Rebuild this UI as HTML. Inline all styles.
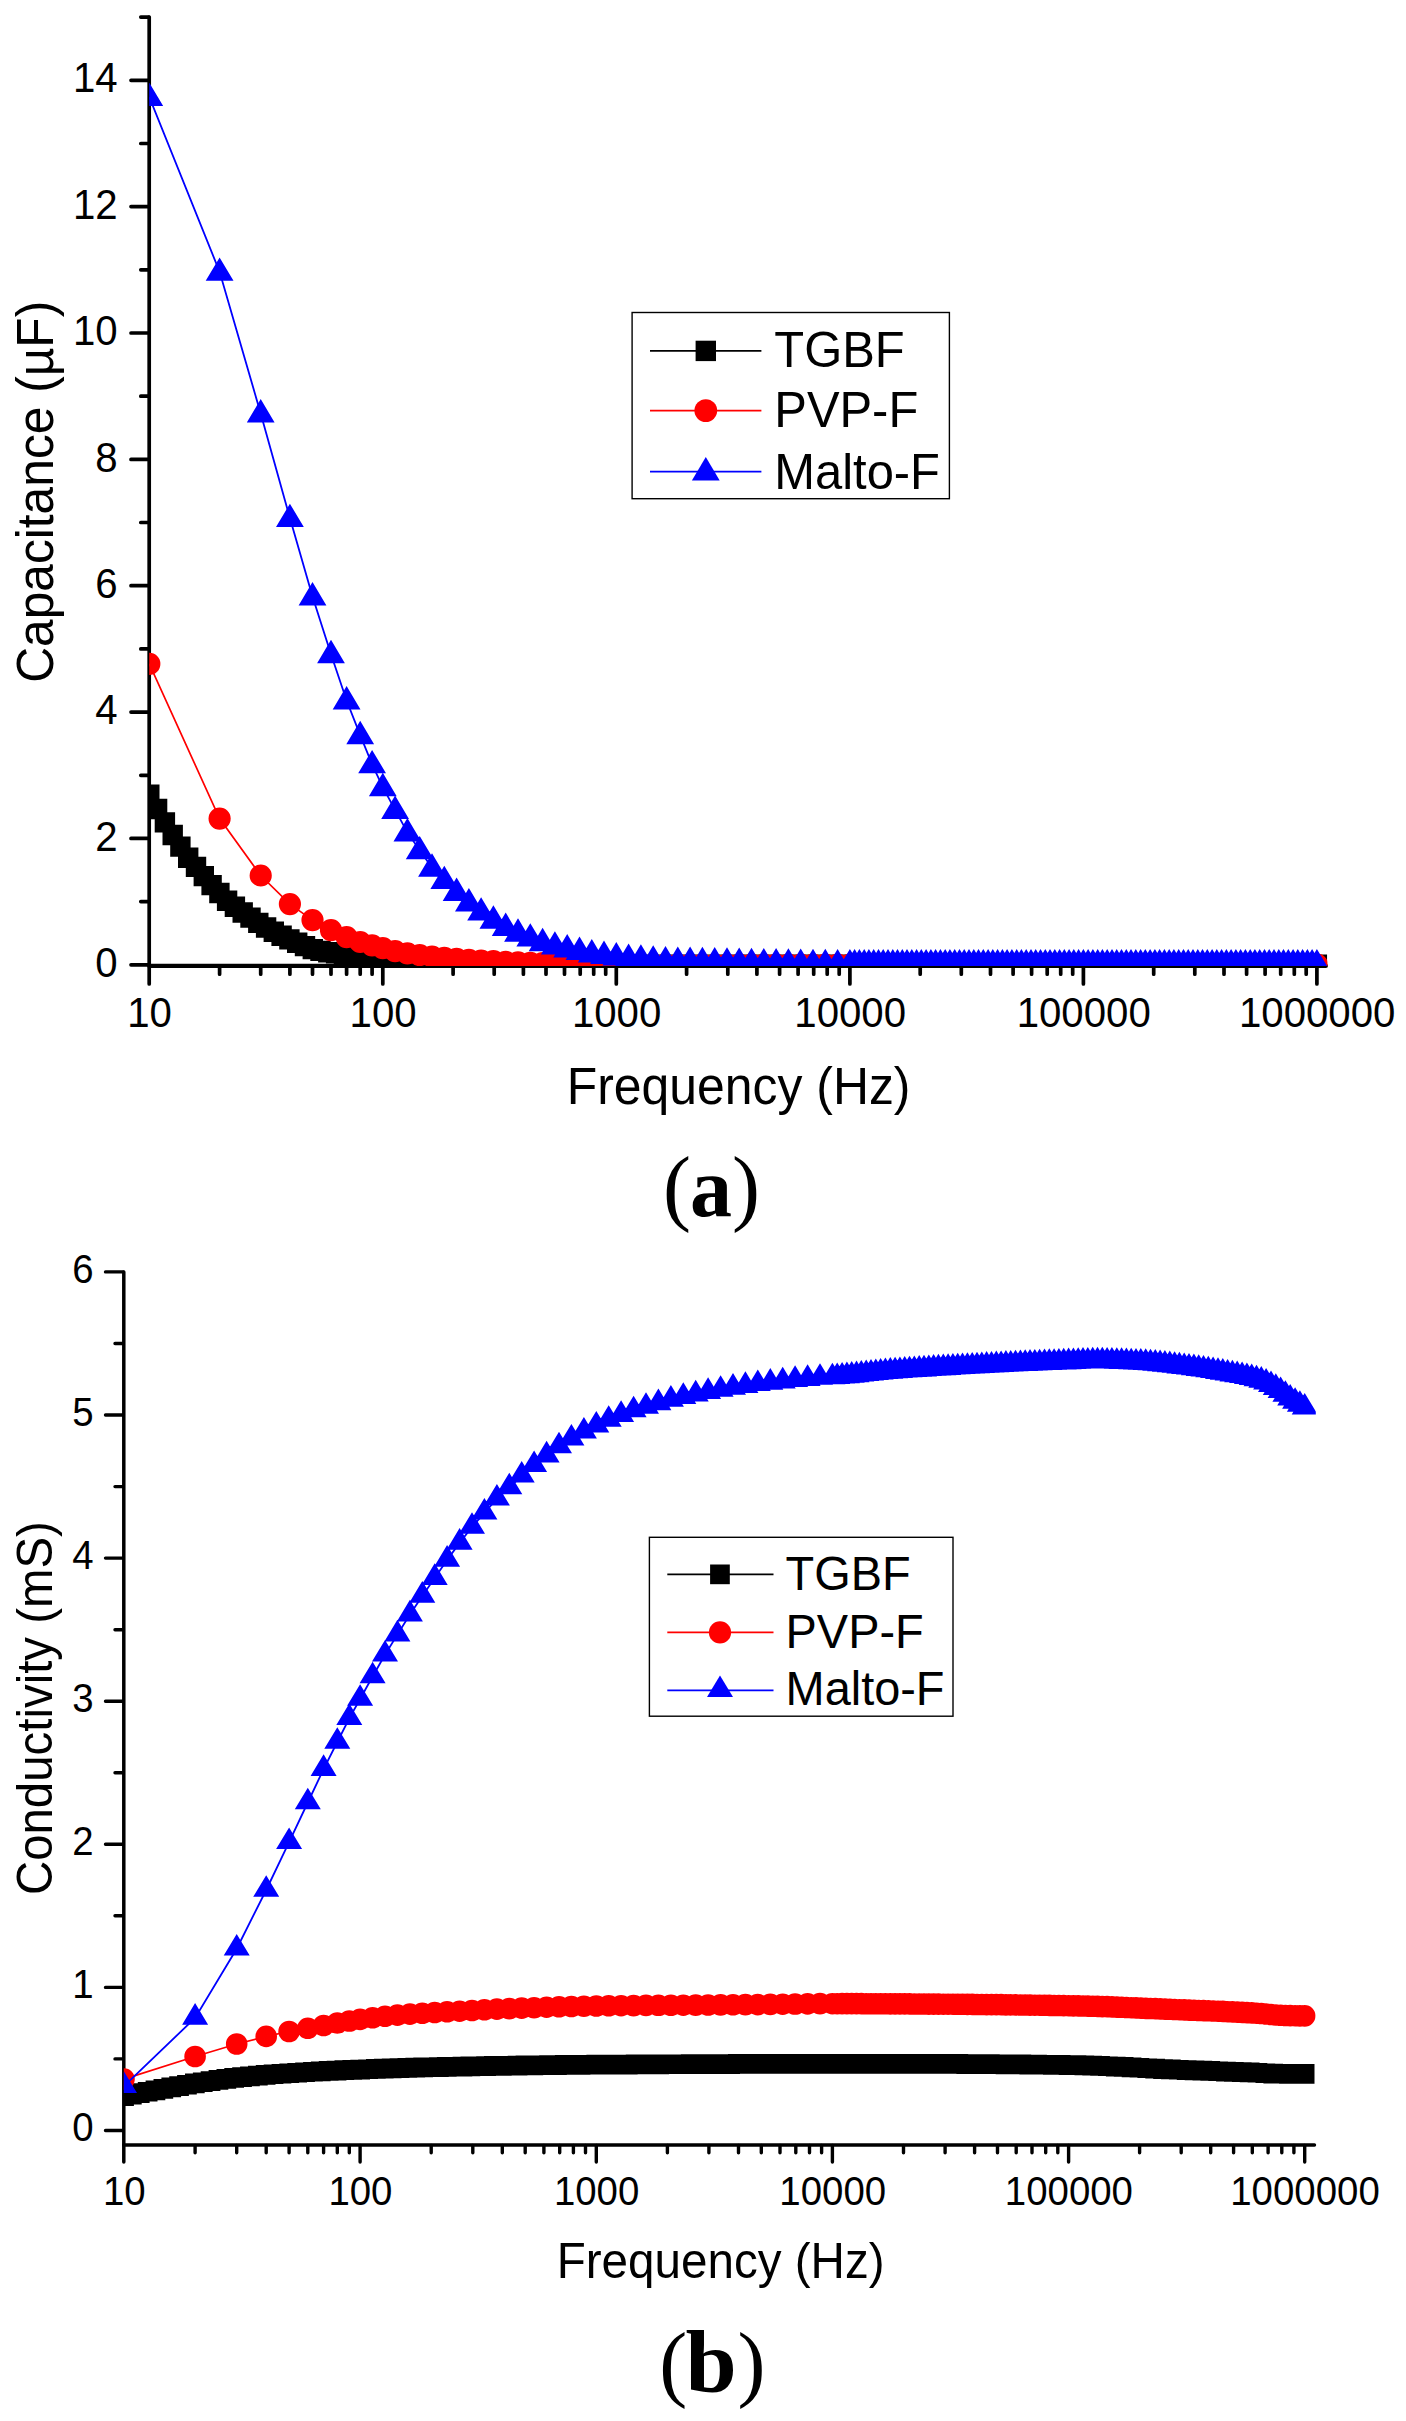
<!DOCTYPE html>
<html lang="en">
<head>
<meta charset="utf-8">
<title>Capacitance and conductivity versus frequency</title>
<style>
html,body{margin:0;padding:0;background:#fff;}
body{width:1406px;height:2421px;overflow:hidden;}
svg{display:block;}
text{fill:#000;}
</style>
</head>
<body>
<svg width="1406" height="2421" viewBox="0 0 1406 2421">
<rect width="1406" height="2421" fill="#fff"/>
<g stroke="#000" fill="none" stroke-linecap="round">
<path stroke-width="3.7" d="M149.2 17.1 V984"/>
<path stroke-width="4.1" d="M149.2 965.9 H1325.9"/>
<path stroke-width="3.7" stroke-linecap="round" d="M131 964.8H148.6M131 838.4H148.6M131 712.1H148.6M131 585.7H148.6M131 459.4H148.6M131 333H148.6M131 206.6H148.6M131 80.3H148.6M140.8 901.6H148.6M140.8 775.3H148.6M140.8 648.9H148.6M140.8 522.5H148.6M140.8 396.2H148.6M140.8 269.8H148.6M140.8 143.5H148.6M140.8 17.1H148.6M219.6 966.3V974.2M260.7 966.3V974.2M289.9 966.3V974.2M312.5 966.3V974.2M331 966.3V974.2M346.6 966.3V974.2M360.2 966.3V974.2M372.1 966.3V974.2M382.8 966.3V984M453.1 966.3V974.2M494.2 966.3V974.2M523.4 966.3V974.2M546 966.3V974.2M564.5 966.3V974.2M580.2 966.3V974.2M593.7 966.3V974.2M605.7 966.3V974.2M616.3 966.3V984M686.6 966.3V974.2M727.8 966.3V974.2M756.9 966.3V974.2M779.6 966.3V974.2M798.1 966.3V974.2M813.7 966.3V974.2M827.2 966.3V974.2M839.2 966.3V974.2M849.9 966.3V984M920.2 966.3V974.2M961.3 966.3V974.2M990.5 966.3V974.2M1013.1 966.3V974.2M1031.6 966.3V974.2M1047.2 966.3V974.2M1060.7 966.3V974.2M1072.7 966.3V974.2M1083.4 966.3V984M1153.7 966.3V974.2M1194.8 966.3V974.2M1224 966.3V974.2M1246.6 966.3V974.2M1265.1 966.3V974.2M1280.7 966.3V974.2M1294.3 966.3V974.2M1306.2 966.3V974.2M1316.9 966.3V984"/>
</g>
<clipPath id="clipA"><rect x="149.2" y="-15" width="1178.3" height="980.9"/></clipPath>
<g clip-path="url(#clipA)">
<polyline fill="none" stroke="#000" stroke-width="1.6" points="149.3,794.8 157.1,809 164.9,822.4 172.7,835 180.4,846.6 188.2,857.7 196,866.9 203.8,876.1 211.6,885.1 219.4,893 227.1,900.8 234.9,906.7 242.7,912.5 250.5,917.6 258.3,922.9 266.1,927.5 273.8,931.8 281.6,935.8 289.4,939.4 297.2,942.8 305,946.1 312.8,949.1 320.5,950.9 328.3,952.2 336.1,953.4 343.9,954.4 351.7,955.4 359.5,956.4 367.3,957.4 375,958.4 382.8,959.3 390.6,960.1 398.4,960.9 406.2,961.6 414,962.4 421.7,963.1 429.5,963.8 437.3,964.3 445.1,964.6 452.9,964.7 460.7,964.7 468.4,964.7 476.2,964.7 484,964.7 491.8,964.7 499.6,964.7 507.4,964.7 515.1,964.7 522.9,964.7 530.7,964.7 538.5,964.7 546.3,964.7 554.1,964.7 561.9,964.7 569.6,964.7 577.4,964.7 585.2,964.7 593,964.7 600.8,964.7 608.6,964.7 616.3,964.7 624.1,964.7 631.9,964.7 639.7,964.7 647.5,964.7 655.3,964.7 663,964.7 670.8,964.7 678.6,964.7 686.4,964.7 694.2,964.7 702,964.7 709.7,964.7 717.5,964.7 725.3,964.7 733.1,964.7 740.9,964.7 748.7,964.7 756.5,964.7 764.2,964.7 772,964.7 779.8,964.7 787.6,964.7 795.4,964.7 803.2,964.7 810.9,964.7 818.7,964.7 826.5,964.7 834.3,964.7 842.1,964.7 849.9,964.7 857.6,964.7 865.4,964.7 873.2,964.7 881,964.7 888.8,964.7 896.6,964.7 904.3,964.7 912.1,964.7 919.9,964.7 927.7,964.7 935.5,964.7 943.3,964.7 951.1,964.7 958.8,964.7 966.6,964.7 974.4,964.7 982.2,964.7 990,964.7 997.8,964.7 1005.5,964.7 1013.3,964.7 1021.1,964.7 1028.9,964.7 1036.7,964.7 1044.5,964.7 1052.2,964.7 1060,964.7 1067.8,964.7 1075.6,964.7 1083.4,964.7 1091.2,964.7 1098.9,964.7 1106.7,964.7 1114.5,964.7 1122.3,964.7 1130.1,964.7 1137.9,964.7 1145.7,964.7 1153.4,964.7 1161.2,964.7 1169,964.7 1176.8,964.7 1184.6,964.7 1192.4,964.7 1200.1,964.7 1207.9,964.7 1215.7,964.7 1223.5,964.7 1231.3,964.7 1239.1,964.7 1246.8,964.7 1254.6,964.7 1262.4,964.7 1270.2,964.7 1278,964.7 1285.8,964.7 1293.5,964.7 1301.3,964.7 1309.1,964.7 1316.9,964.7"/>
<path fill="#000" d="M139.1 784.6h20.4v20.4h-20.4zM146.9 798.8h20.4v20.4h-20.4zM154.7 812.2h20.4v20.4h-20.4zM162.5 824.8h20.4v20.4h-20.4zM170.2 836.4h20.4v20.4h-20.4zM178 847.5h20.4v20.4h-20.4zM185.8 856.7h20.4v20.4h-20.4zM193.6 865.9h20.4v20.4h-20.4zM201.4 874.9h20.4v20.4h-20.4zM209.2 882.8h20.4v20.4h-20.4zM216.9 890.6h20.4v20.4h-20.4zM224.7 896.5h20.4v20.4h-20.4zM232.5 902.3h20.4v20.4h-20.4zM240.3 907.4h20.4v20.4h-20.4zM248.1 912.7h20.4v20.4h-20.4zM255.9 917.3h20.4v20.4h-20.4zM263.6 921.6h20.4v20.4h-20.4zM271.4 925.6h20.4v20.4h-20.4zM279.2 929.2h20.4v20.4h-20.4zM287 932.6h20.4v20.4h-20.4zM294.8 935.9h20.4v20.4h-20.4zM302.6 938.9h20.4v20.4h-20.4zM310.3 940.7h20.4v20.4h-20.4zM318.1 942h20.4v20.4h-20.4zM325.9 943.2h20.4v20.4h-20.4zM333.7 944.2h20.4v20.4h-20.4zM341.5 945.2h20.4v20.4h-20.4zM349.3 946.2h20.4v20.4h-20.4zM357.1 947.2h20.4v20.4h-20.4zM364.8 948.2h20.4v20.4h-20.4zM372.6 949.1h20.4v20.4h-20.4zM380.4 949.9h20.4v20.4h-20.4zM388.2 950.7h20.4v20.4h-20.4zM396 951.4h20.4v20.4h-20.4zM403.8 952.2h20.4v20.4h-20.4zM411.5 952.9h20.4v20.4h-20.4zM419.3 953.6h20.4v20.4h-20.4zM427.1 954.1h20.4v20.4h-20.4zM434.9 954.4h20.4v20.4h-20.4zM442.7 954.5h20.4v20.4h-20.4zM450.5 954.5h20.4v20.4h-20.4zM458.2 954.5h20.4v20.4h-20.4zM466 954.5h20.4v20.4h-20.4zM473.8 954.5h20.4v20.4h-20.4zM481.6 954.5h20.4v20.4h-20.4zM489.4 954.5h20.4v20.4h-20.4zM497.2 954.5h20.4v20.4h-20.4zM504.9 954.5h20.4v20.4h-20.4zM512.7 954.5h20.4v20.4h-20.4zM520.5 954.5h20.4v20.4h-20.4zM528.3 954.5h20.4v20.4h-20.4zM536.1 954.5h20.4v20.4h-20.4zM543.9 954.5h20.4v20.4h-20.4zM551.7 954.5h20.4v20.4h-20.4zM559.4 954.5h20.4v20.4h-20.4zM567.2 954.5h20.4v20.4h-20.4zM575 954.5h20.4v20.4h-20.4zM582.8 954.5h20.4v20.4h-20.4zM590.6 954.5h20.4v20.4h-20.4zM598.4 954.5h20.4v20.4h-20.4zM606.1 954.5h20.4v20.4h-20.4zM613.9 954.5h20.4v20.4h-20.4zM621.7 954.5h20.4v20.4h-20.4zM629.5 954.5h20.4v20.4h-20.4zM637.3 954.5h20.4v20.4h-20.4zM645.1 954.5h20.4v20.4h-20.4zM652.8 954.5h20.4v20.4h-20.4zM660.6 954.5h20.4v20.4h-20.4zM668.4 954.5h20.4v20.4h-20.4zM676.2 954.5h20.4v20.4h-20.4zM684 954.5h20.4v20.4h-20.4zM691.8 954.5h20.4v20.4h-20.4zM699.5 954.5h20.4v20.4h-20.4zM707.3 954.5h20.4v20.4h-20.4zM715.1 954.5h20.4v20.4h-20.4zM722.9 954.5h20.4v20.4h-20.4zM730.7 954.5h20.4v20.4h-20.4zM738.5 954.5h20.4v20.4h-20.4zM746.3 954.5h20.4v20.4h-20.4zM754 954.5h20.4v20.4h-20.4zM761.8 954.5h20.4v20.4h-20.4zM769.6 954.5h20.4v20.4h-20.4zM777.4 954.5h20.4v20.4h-20.4zM785.2 954.5h20.4v20.4h-20.4zM793 954.5h20.4v20.4h-20.4zM800.7 954.5h20.4v20.4h-20.4zM808.5 954.5h20.4v20.4h-20.4zM816.3 954.5h20.4v20.4h-20.4zM824.1 954.5h20.4v20.4h-20.4zM831.9 954.5h20.4v20.4h-20.4zM839.7 954.5h20.4v20.4h-20.4zM847.4 954.5h20.4v20.4h-20.4zM855.2 954.5h20.4v20.4h-20.4zM863 954.5h20.4v20.4h-20.4zM870.8 954.5h20.4v20.4h-20.4zM878.6 954.5h20.4v20.4h-20.4zM886.4 954.5h20.4v20.4h-20.4zM894.1 954.5h20.4v20.4h-20.4zM901.9 954.5h20.4v20.4h-20.4zM909.7 954.5h20.4v20.4h-20.4zM917.5 954.5h20.4v20.4h-20.4zM925.3 954.5h20.4v20.4h-20.4zM933.1 954.5h20.4v20.4h-20.4zM940.9 954.5h20.4v20.4h-20.4zM948.6 954.5h20.4v20.4h-20.4zM956.4 954.5h20.4v20.4h-20.4zM964.2 954.5h20.4v20.4h-20.4zM972 954.5h20.4v20.4h-20.4zM979.8 954.5h20.4v20.4h-20.4zM987.6 954.5h20.4v20.4h-20.4zM995.3 954.5h20.4v20.4h-20.4zM1003.1 954.5h20.4v20.4h-20.4zM1010.9 954.5h20.4v20.4h-20.4zM1018.7 954.5h20.4v20.4h-20.4zM1026.5 954.5h20.4v20.4h-20.4zM1034.3 954.5h20.4v20.4h-20.4zM1042 954.5h20.4v20.4h-20.4zM1049.8 954.5h20.4v20.4h-20.4zM1057.6 954.5h20.4v20.4h-20.4zM1065.4 954.5h20.4v20.4h-20.4zM1073.2 954.5h20.4v20.4h-20.4zM1081 954.5h20.4v20.4h-20.4zM1088.7 954.5h20.4v20.4h-20.4zM1096.5 954.5h20.4v20.4h-20.4zM1104.3 954.5h20.4v20.4h-20.4zM1112.1 954.5h20.4v20.4h-20.4zM1119.9 954.5h20.4v20.4h-20.4zM1127.7 954.5h20.4v20.4h-20.4zM1135.5 954.5h20.4v20.4h-20.4zM1143.2 954.5h20.4v20.4h-20.4zM1151 954.5h20.4v20.4h-20.4zM1158.8 954.5h20.4v20.4h-20.4zM1166.6 954.5h20.4v20.4h-20.4zM1174.4 954.5h20.4v20.4h-20.4zM1182.2 954.5h20.4v20.4h-20.4zM1189.9 954.5h20.4v20.4h-20.4zM1197.7 954.5h20.4v20.4h-20.4zM1205.5 954.5h20.4v20.4h-20.4zM1213.3 954.5h20.4v20.4h-20.4zM1221.1 954.5h20.4v20.4h-20.4zM1228.9 954.5h20.4v20.4h-20.4zM1236.6 954.5h20.4v20.4h-20.4zM1244.4 954.5h20.4v20.4h-20.4zM1252.2 954.5h20.4v20.4h-20.4zM1260 954.5h20.4v20.4h-20.4zM1267.8 954.5h20.4v20.4h-20.4zM1275.6 954.5h20.4v20.4h-20.4zM1283.3 954.5h20.4v20.4h-20.4zM1291.1 954.5h20.4v20.4h-20.4zM1298.9 954.5h20.4v20.4h-20.4zM1306.7 954.5h20.4v20.4h-20.4z"/>
<polyline fill="none" stroke="#f00" stroke-width="1.7" points="149.3,663.9 219.6,818.6 260.7,875.5 289.9,904.1 312.5,920.1 331,930.2 346.6,937.1 360.2,942 372.1,945.3 382.8,948.2 395.1,951.2 407.4,953.4 419.7,955.1 432,956.6 444.3,957.8 456.6,958.8 468.9,959.8 481.1,960.6 493.4,961.2 505.7,961.8 518,962.3 530.3,962.8 542.6,963.2 554.9,963.5 567.2,963.7 579.5,964 591.8,964.1 604,964.2 616.3,964.3 628.6,964.4 640.9,964.4 653.2,964.5 665.5,964.5 677.8,964.6 690.1,964.6 702.4,964.6 714.7,964.6 727,964.6 739.2,964.6 751.5,964.6 763.8,964.6 776.1,964.6 788.4,964.6 800.7,964.6 813,964.6 825.3,964.6 837.6,964.6 849.9,964.6 854.6,964.6 859.4,964.6 864.2,964.6 868.9,964.6 873.7,964.6 878.5,964.6 883.2,964.6 888,964.6 892.8,964.6 897.5,964.6 902.3,964.6 907,964.6 911.8,964.6 916.6,964.6 921.3,964.6 926.1,964.6 930.9,964.6 935.6,964.6 940.4,964.6 945.2,964.6 949.9,964.6 954.7,964.6 959.5,964.6 964.2,964.6 969,964.6 973.8,964.6 978.5,964.6 983.3,964.6 988.1,964.6 992.8,964.6 997.6,964.6 1002.4,964.6 1007.1,964.6 1011.9,964.6 1016.7,964.6 1021.4,964.6 1026.2,964.6 1031,964.6 1035.7,964.6 1040.5,964.6 1045.3,964.6 1050,964.6 1054.8,964.6 1059.6,964.6 1064.3,964.6 1069.1,964.6 1073.8,964.6 1078.6,964.6 1083.4,964.6 1088.1,964.6 1092.9,964.6 1097.7,964.6 1102.4,964.6 1107.2,964.6 1112,964.6 1116.7,964.6 1121.5,964.6 1126.3,964.6 1131,964.6 1135.8,964.6 1140.6,964.6 1145.3,964.6 1150.1,964.6 1154.9,964.6 1159.6,964.6 1164.4,964.6 1169.2,964.6 1173.9,964.6 1178.7,964.6 1183.5,964.6 1188.2,964.6 1193,964.6 1197.8,964.6 1202.5,964.6 1207.3,964.6 1212.1,964.6 1216.8,964.6 1221.6,964.6 1226.4,964.6 1231.1,964.6 1235.9,964.6 1240.6,964.6 1245.4,964.6 1250.2,964.6 1254.9,964.6 1259.7,964.6 1264.5,964.6 1269.2,964.6 1274,964.6 1278.8,964.6 1283.5,964.6 1288.3,964.6 1293.1,964.6 1297.8,964.6 1302.6,964.6 1307.4,964.6 1312.1,964.6 1316.9,964.6"/>
<path fill="#f00" d="M138.2 663.9a11.1 11.1 0 1 0 22.2 0a11.1 11.1 0 1 0 -22.2 0zM208.5 818.6a11.1 11.1 0 1 0 22.2 0a11.1 11.1 0 1 0 -22.2 0zM249.6 875.5a11.1 11.1 0 1 0 22.2 0a11.1 11.1 0 1 0 -22.2 0zM278.8 904.1a11.1 11.1 0 1 0 22.2 0a11.1 11.1 0 1 0 -22.2 0zM301.4 920.1a11.1 11.1 0 1 0 22.2 0a11.1 11.1 0 1 0 -22.2 0zM319.9 930.2a11.1 11.1 0 1 0 22.2 0a11.1 11.1 0 1 0 -22.2 0zM335.5 937.1a11.1 11.1 0 1 0 22.2 0a11.1 11.1 0 1 0 -22.2 0zM349.1 942a11.1 11.1 0 1 0 22.2 0a11.1 11.1 0 1 0 -22.2 0zM361 945.3a11.1 11.1 0 1 0 22.2 0a11.1 11.1 0 1 0 -22.2 0zM371.7 948.2a11.1 11.1 0 1 0 22.2 0a11.1 11.1 0 1 0 -22.2 0zM384 951.2a11.1 11.1 0 1 0 22.2 0a11.1 11.1 0 1 0 -22.2 0zM396.3 953.4a11.1 11.1 0 1 0 22.2 0a11.1 11.1 0 1 0 -22.2 0zM408.6 955.1a11.1 11.1 0 1 0 22.2 0a11.1 11.1 0 1 0 -22.2 0zM420.9 956.6a11.1 11.1 0 1 0 22.2 0a11.1 11.1 0 1 0 -22.2 0zM433.2 957.8a11.1 11.1 0 1 0 22.2 0a11.1 11.1 0 1 0 -22.2 0zM445.5 958.8a11.1 11.1 0 1 0 22.2 0a11.1 11.1 0 1 0 -22.2 0zM457.8 959.8a11.1 11.1 0 1 0 22.2 0a11.1 11.1 0 1 0 -22.2 0zM470 960.6a11.1 11.1 0 1 0 22.2 0a11.1 11.1 0 1 0 -22.2 0zM482.3 961.2a11.1 11.1 0 1 0 22.2 0a11.1 11.1 0 1 0 -22.2 0zM494.6 961.8a11.1 11.1 0 1 0 22.2 0a11.1 11.1 0 1 0 -22.2 0zM506.9 962.3a11.1 11.1 0 1 0 22.2 0a11.1 11.1 0 1 0 -22.2 0zM519.2 962.8a11.1 11.1 0 1 0 22.2 0a11.1 11.1 0 1 0 -22.2 0zM531.5 963.2a11.1 11.1 0 1 0 22.2 0a11.1 11.1 0 1 0 -22.2 0zM543.8 963.5a11.1 11.1 0 1 0 22.2 0a11.1 11.1 0 1 0 -22.2 0zM556.1 963.7a11.1 11.1 0 1 0 22.2 0a11.1 11.1 0 1 0 -22.2 0zM568.4 964a11.1 11.1 0 1 0 22.2 0a11.1 11.1 0 1 0 -22.2 0zM580.7 964.1a11.1 11.1 0 1 0 22.2 0a11.1 11.1 0 1 0 -22.2 0zM592.9 964.2a11.1 11.1 0 1 0 22.2 0a11.1 11.1 0 1 0 -22.2 0zM605.2 964.3a11.1 11.1 0 1 0 22.2 0a11.1 11.1 0 1 0 -22.2 0zM617.5 964.4a11.1 11.1 0 1 0 22.2 0a11.1 11.1 0 1 0 -22.2 0zM629.8 964.4a11.1 11.1 0 1 0 22.2 0a11.1 11.1 0 1 0 -22.2 0zM642.1 964.5a11.1 11.1 0 1 0 22.2 0a11.1 11.1 0 1 0 -22.2 0zM654.4 964.5a11.1 11.1 0 1 0 22.2 0a11.1 11.1 0 1 0 -22.2 0zM666.7 964.6a11.1 11.1 0 1 0 22.2 0a11.1 11.1 0 1 0 -22.2 0zM679 964.6a11.1 11.1 0 1 0 22.2 0a11.1 11.1 0 1 0 -22.2 0zM691.3 964.6a11.1 11.1 0 1 0 22.2 0a11.1 11.1 0 1 0 -22.2 0zM703.6 964.6a11.1 11.1 0 1 0 22.2 0a11.1 11.1 0 1 0 -22.2 0zM715.9 964.6a11.1 11.1 0 1 0 22.2 0a11.1 11.1 0 1 0 -22.2 0zM728.1 964.6a11.1 11.1 0 1 0 22.2 0a11.1 11.1 0 1 0 -22.2 0zM740.4 964.6a11.1 11.1 0 1 0 22.2 0a11.1 11.1 0 1 0 -22.2 0zM752.7 964.6a11.1 11.1 0 1 0 22.2 0a11.1 11.1 0 1 0 -22.2 0zM765 964.6a11.1 11.1 0 1 0 22.2 0a11.1 11.1 0 1 0 -22.2 0zM777.3 964.6a11.1 11.1 0 1 0 22.2 0a11.1 11.1 0 1 0 -22.2 0zM789.6 964.6a11.1 11.1 0 1 0 22.2 0a11.1 11.1 0 1 0 -22.2 0zM801.9 964.6a11.1 11.1 0 1 0 22.2 0a11.1 11.1 0 1 0 -22.2 0zM814.2 964.6a11.1 11.1 0 1 0 22.2 0a11.1 11.1 0 1 0 -22.2 0zM826.5 964.6a11.1 11.1 0 1 0 22.2 0a11.1 11.1 0 1 0 -22.2 0zM838.8 964.6a11.1 11.1 0 1 0 22.2 0a11.1 11.1 0 1 0 -22.2 0zM843.5 964.6a11.1 11.1 0 1 0 22.2 0a11.1 11.1 0 1 0 -22.2 0zM848.3 964.6a11.1 11.1 0 1 0 22.2 0a11.1 11.1 0 1 0 -22.2 0zM853.1 964.6a11.1 11.1 0 1 0 22.2 0a11.1 11.1 0 1 0 -22.2 0zM857.8 964.6a11.1 11.1 0 1 0 22.2 0a11.1 11.1 0 1 0 -22.2 0zM862.6 964.6a11.1 11.1 0 1 0 22.2 0a11.1 11.1 0 1 0 -22.2 0zM867.4 964.6a11.1 11.1 0 1 0 22.2 0a11.1 11.1 0 1 0 -22.2 0zM872.1 964.6a11.1 11.1 0 1 0 22.2 0a11.1 11.1 0 1 0 -22.2 0zM876.9 964.6a11.1 11.1 0 1 0 22.2 0a11.1 11.1 0 1 0 -22.2 0zM881.7 964.6a11.1 11.1 0 1 0 22.2 0a11.1 11.1 0 1 0 -22.2 0zM886.4 964.6a11.1 11.1 0 1 0 22.2 0a11.1 11.1 0 1 0 -22.2 0zM891.2 964.6a11.1 11.1 0 1 0 22.2 0a11.1 11.1 0 1 0 -22.2 0zM895.9 964.6a11.1 11.1 0 1 0 22.2 0a11.1 11.1 0 1 0 -22.2 0zM900.7 964.6a11.1 11.1 0 1 0 22.2 0a11.1 11.1 0 1 0 -22.2 0zM905.5 964.6a11.1 11.1 0 1 0 22.2 0a11.1 11.1 0 1 0 -22.2 0zM910.2 964.6a11.1 11.1 0 1 0 22.2 0a11.1 11.1 0 1 0 -22.2 0zM915 964.6a11.1 11.1 0 1 0 22.2 0a11.1 11.1 0 1 0 -22.2 0zM919.8 964.6a11.1 11.1 0 1 0 22.2 0a11.1 11.1 0 1 0 -22.2 0zM924.5 964.6a11.1 11.1 0 1 0 22.2 0a11.1 11.1 0 1 0 -22.2 0zM929.3 964.6a11.1 11.1 0 1 0 22.2 0a11.1 11.1 0 1 0 -22.2 0zM934.1 964.6a11.1 11.1 0 1 0 22.2 0a11.1 11.1 0 1 0 -22.2 0zM938.8 964.6a11.1 11.1 0 1 0 22.2 0a11.1 11.1 0 1 0 -22.2 0zM943.6 964.6a11.1 11.1 0 1 0 22.2 0a11.1 11.1 0 1 0 -22.2 0zM948.4 964.6a11.1 11.1 0 1 0 22.2 0a11.1 11.1 0 1 0 -22.2 0zM953.1 964.6a11.1 11.1 0 1 0 22.2 0a11.1 11.1 0 1 0 -22.2 0zM957.9 964.6a11.1 11.1 0 1 0 22.2 0a11.1 11.1 0 1 0 -22.2 0zM962.7 964.6a11.1 11.1 0 1 0 22.2 0a11.1 11.1 0 1 0 -22.2 0zM967.4 964.6a11.1 11.1 0 1 0 22.2 0a11.1 11.1 0 1 0 -22.2 0zM972.2 964.6a11.1 11.1 0 1 0 22.2 0a11.1 11.1 0 1 0 -22.2 0zM977 964.6a11.1 11.1 0 1 0 22.2 0a11.1 11.1 0 1 0 -22.2 0zM981.7 964.6a11.1 11.1 0 1 0 22.2 0a11.1 11.1 0 1 0 -22.2 0zM986.5 964.6a11.1 11.1 0 1 0 22.2 0a11.1 11.1 0 1 0 -22.2 0zM991.3 964.6a11.1 11.1 0 1 0 22.2 0a11.1 11.1 0 1 0 -22.2 0zM996 964.6a11.1 11.1 0 1 0 22.2 0a11.1 11.1 0 1 0 -22.2 0zM1000.8 964.6a11.1 11.1 0 1 0 22.2 0a11.1 11.1 0 1 0 -22.2 0zM1005.6 964.6a11.1 11.1 0 1 0 22.2 0a11.1 11.1 0 1 0 -22.2 0zM1010.3 964.6a11.1 11.1 0 1 0 22.2 0a11.1 11.1 0 1 0 -22.2 0zM1015.1 964.6a11.1 11.1 0 1 0 22.2 0a11.1 11.1 0 1 0 -22.2 0zM1019.9 964.6a11.1 11.1 0 1 0 22.2 0a11.1 11.1 0 1 0 -22.2 0zM1024.6 964.6a11.1 11.1 0 1 0 22.2 0a11.1 11.1 0 1 0 -22.2 0zM1029.4 964.6a11.1 11.1 0 1 0 22.2 0a11.1 11.1 0 1 0 -22.2 0zM1034.2 964.6a11.1 11.1 0 1 0 22.2 0a11.1 11.1 0 1 0 -22.2 0zM1038.9 964.6a11.1 11.1 0 1 0 22.2 0a11.1 11.1 0 1 0 -22.2 0zM1043.7 964.6a11.1 11.1 0 1 0 22.2 0a11.1 11.1 0 1 0 -22.2 0zM1048.5 964.6a11.1 11.1 0 1 0 22.2 0a11.1 11.1 0 1 0 -22.2 0zM1053.2 964.6a11.1 11.1 0 1 0 22.2 0a11.1 11.1 0 1 0 -22.2 0zM1058 964.6a11.1 11.1 0 1 0 22.2 0a11.1 11.1 0 1 0 -22.2 0zM1062.7 964.6a11.1 11.1 0 1 0 22.2 0a11.1 11.1 0 1 0 -22.2 0zM1067.5 964.6a11.1 11.1 0 1 0 22.2 0a11.1 11.1 0 1 0 -22.2 0zM1072.3 964.6a11.1 11.1 0 1 0 22.2 0a11.1 11.1 0 1 0 -22.2 0zM1077 964.6a11.1 11.1 0 1 0 22.2 0a11.1 11.1 0 1 0 -22.2 0zM1081.8 964.6a11.1 11.1 0 1 0 22.2 0a11.1 11.1 0 1 0 -22.2 0zM1086.6 964.6a11.1 11.1 0 1 0 22.2 0a11.1 11.1 0 1 0 -22.2 0zM1091.3 964.6a11.1 11.1 0 1 0 22.2 0a11.1 11.1 0 1 0 -22.2 0zM1096.1 964.6a11.1 11.1 0 1 0 22.2 0a11.1 11.1 0 1 0 -22.2 0zM1100.9 964.6a11.1 11.1 0 1 0 22.2 0a11.1 11.1 0 1 0 -22.2 0zM1105.6 964.6a11.1 11.1 0 1 0 22.2 0a11.1 11.1 0 1 0 -22.2 0zM1110.4 964.6a11.1 11.1 0 1 0 22.2 0a11.1 11.1 0 1 0 -22.2 0zM1115.2 964.6a11.1 11.1 0 1 0 22.2 0a11.1 11.1 0 1 0 -22.2 0zM1119.9 964.6a11.1 11.1 0 1 0 22.2 0a11.1 11.1 0 1 0 -22.2 0zM1124.7 964.6a11.1 11.1 0 1 0 22.2 0a11.1 11.1 0 1 0 -22.2 0zM1129.5 964.6a11.1 11.1 0 1 0 22.2 0a11.1 11.1 0 1 0 -22.2 0zM1134.2 964.6a11.1 11.1 0 1 0 22.2 0a11.1 11.1 0 1 0 -22.2 0zM1139 964.6a11.1 11.1 0 1 0 22.2 0a11.1 11.1 0 1 0 -22.2 0zM1143.8 964.6a11.1 11.1 0 1 0 22.2 0a11.1 11.1 0 1 0 -22.2 0zM1148.5 964.6a11.1 11.1 0 1 0 22.2 0a11.1 11.1 0 1 0 -22.2 0zM1153.3 964.6a11.1 11.1 0 1 0 22.2 0a11.1 11.1 0 1 0 -22.2 0zM1158.1 964.6a11.1 11.1 0 1 0 22.2 0a11.1 11.1 0 1 0 -22.2 0zM1162.8 964.6a11.1 11.1 0 1 0 22.2 0a11.1 11.1 0 1 0 -22.2 0zM1167.6 964.6a11.1 11.1 0 1 0 22.2 0a11.1 11.1 0 1 0 -22.2 0zM1172.4 964.6a11.1 11.1 0 1 0 22.2 0a11.1 11.1 0 1 0 -22.2 0zM1177.1 964.6a11.1 11.1 0 1 0 22.2 0a11.1 11.1 0 1 0 -22.2 0zM1181.9 964.6a11.1 11.1 0 1 0 22.2 0a11.1 11.1 0 1 0 -22.2 0zM1186.7 964.6a11.1 11.1 0 1 0 22.2 0a11.1 11.1 0 1 0 -22.2 0zM1191.4 964.6a11.1 11.1 0 1 0 22.2 0a11.1 11.1 0 1 0 -22.2 0zM1196.2 964.6a11.1 11.1 0 1 0 22.2 0a11.1 11.1 0 1 0 -22.2 0zM1201 964.6a11.1 11.1 0 1 0 22.2 0a11.1 11.1 0 1 0 -22.2 0zM1205.7 964.6a11.1 11.1 0 1 0 22.2 0a11.1 11.1 0 1 0 -22.2 0zM1210.5 964.6a11.1 11.1 0 1 0 22.2 0a11.1 11.1 0 1 0 -22.2 0zM1215.3 964.6a11.1 11.1 0 1 0 22.2 0a11.1 11.1 0 1 0 -22.2 0zM1220 964.6a11.1 11.1 0 1 0 22.2 0a11.1 11.1 0 1 0 -22.2 0zM1224.8 964.6a11.1 11.1 0 1 0 22.2 0a11.1 11.1 0 1 0 -22.2 0zM1229.5 964.6a11.1 11.1 0 1 0 22.2 0a11.1 11.1 0 1 0 -22.2 0zM1234.3 964.6a11.1 11.1 0 1 0 22.2 0a11.1 11.1 0 1 0 -22.2 0zM1239.1 964.6a11.1 11.1 0 1 0 22.2 0a11.1 11.1 0 1 0 -22.2 0zM1243.8 964.6a11.1 11.1 0 1 0 22.2 0a11.1 11.1 0 1 0 -22.2 0zM1248.6 964.6a11.1 11.1 0 1 0 22.2 0a11.1 11.1 0 1 0 -22.2 0zM1253.4 964.6a11.1 11.1 0 1 0 22.2 0a11.1 11.1 0 1 0 -22.2 0zM1258.1 964.6a11.1 11.1 0 1 0 22.2 0a11.1 11.1 0 1 0 -22.2 0zM1262.9 964.6a11.1 11.1 0 1 0 22.2 0a11.1 11.1 0 1 0 -22.2 0zM1267.7 964.6a11.1 11.1 0 1 0 22.2 0a11.1 11.1 0 1 0 -22.2 0zM1272.4 964.6a11.1 11.1 0 1 0 22.2 0a11.1 11.1 0 1 0 -22.2 0zM1277.2 964.6a11.1 11.1 0 1 0 22.2 0a11.1 11.1 0 1 0 -22.2 0zM1282 964.6a11.1 11.1 0 1 0 22.2 0a11.1 11.1 0 1 0 -22.2 0zM1286.7 964.6a11.1 11.1 0 1 0 22.2 0a11.1 11.1 0 1 0 -22.2 0zM1291.5 964.6a11.1 11.1 0 1 0 22.2 0a11.1 11.1 0 1 0 -22.2 0zM1296.3 964.6a11.1 11.1 0 1 0 22.2 0a11.1 11.1 0 1 0 -22.2 0zM1301 964.6a11.1 11.1 0 1 0 22.2 0a11.1 11.1 0 1 0 -22.2 0zM1305.8 964.6a11.1 11.1 0 1 0 22.2 0a11.1 11.1 0 1 0 -22.2 0z"/>
<polyline fill="none" stroke="#00f" stroke-width="1.8" points="149.3,97.1 219.6,271.8 260.7,413.5 289.9,518.1 312.5,596.4 331,654.2 346.6,700.5 360.2,735.2 372.1,764.3 382.8,787.2 395.1,809.9 407.4,832.4 419.7,850.3 432,867.7 444.3,880.1 456.6,891.9 468.9,902.4 481.1,911.6 493.4,919.7 505.7,927 518,932.7 530.3,937.6 542.6,942.2 554.9,945.6 567.2,948.5 579.5,950.9 591.8,953.4 604,955 616.3,956.5 628.6,958 640.9,958.6 653.2,959.6 665.5,960.4 677.8,960.8 690.1,961 702.4,961.2 714.7,961.5 727,961.7 739.2,961.9 751.5,962.1 763.8,962.3 776.1,962.5 788.4,962.7 800.7,962.9 813,963.1 825.3,963.2 837.6,963.3 849.9,963.3 854.6,963.3 859.4,963.3 864.2,963.3 868.9,963.3 873.7,963.3 878.5,963.3 883.2,963.3 888,963.3 892.8,963.3 897.5,963.3 902.3,963.3 907,963.3 911.8,963.3 916.6,963.3 921.3,963.3 926.1,963.3 930.9,963.3 935.6,963.3 940.4,963.3 945.2,963.3 949.9,963.3 954.7,963.3 959.5,963.3 964.2,963.3 969,963.3 973.8,963.3 978.5,963.3 983.3,963.3 988.1,963.3 992.8,963.3 997.6,963.3 1002.4,963.3 1007.1,963.3 1011.9,963.3 1016.7,963.3 1021.4,963.3 1026.2,963.3 1031,963.3 1035.7,963.3 1040.5,963.3 1045.3,963.3 1050,963.3 1054.8,963.3 1059.6,963.3 1064.3,963.3 1069.1,963.3 1073.8,963.3 1078.6,963.3 1083.4,963.3 1088.1,963.3 1092.9,963.3 1097.7,963.3 1102.4,963.3 1107.2,963.3 1112,963.3 1116.7,963.3 1121.5,963.3 1126.3,963.3 1131,963.3 1135.8,963.3 1140.6,963.3 1145.3,963.3 1150.1,963.3 1154.9,963.3 1159.6,963.3 1164.4,963.3 1169.2,963.3 1173.9,963.3 1178.7,963.3 1183.5,963.3 1188.2,963.3 1193,963.3 1197.8,963.3 1202.5,963.3 1207.3,963.3 1212.1,963.3 1216.8,963.3 1221.6,963.3 1226.4,963.3 1231.1,963.3 1235.9,963.3 1240.6,963.3 1245.4,963.3 1250.2,963.3 1254.9,963.3 1259.7,963.3 1264.5,963.3 1269.2,963.3 1274,963.3 1278.8,963.3 1283.5,963.3 1288.3,963.3 1293.1,963.3 1297.8,963.3 1302.6,963.3 1307.4,963.3 1312.1,963.3 1316.9,963.3"/>
<path fill="#00f" d="M149.3 82.7l13.9 23.4h-27.8zM219.6 257.4l13.9 23.4h-27.8zM260.7 399.1l13.9 23.4h-27.8zM289.9 503.7l13.9 23.4h-27.8zM312.5 582l13.9 23.4h-27.8zM331 639.8l13.9 23.4h-27.8zM346.6 686.1l13.9 23.4h-27.8zM360.2 720.8l13.9 23.4h-27.8zM372.1 749.9l13.9 23.4h-27.8zM382.8 772.8l13.9 23.4h-27.8zM395.1 795.5l13.9 23.4h-27.8zM407.4 818l13.9 23.4h-27.8zM419.7 835.9l13.9 23.4h-27.8zM432 853.3l13.9 23.4h-27.8zM444.3 865.7l13.9 23.4h-27.8zM456.6 877.5l13.9 23.4h-27.8zM468.9 888l13.9 23.4h-27.8zM481.1 897.2l13.9 23.4h-27.8zM493.4 905.3l13.9 23.4h-27.8zM505.7 912.6l13.9 23.4h-27.8zM518 918.3l13.9 23.4h-27.8zM530.3 923.2l13.9 23.4h-27.8zM542.6 927.8l13.9 23.4h-27.8zM554.9 931.2l13.9 23.4h-27.8zM567.2 934.1l13.9 23.4h-27.8zM579.5 936.5l13.9 23.4h-27.8zM591.8 939l13.9 23.4h-27.8zM604 940.6l13.9 23.4h-27.8zM616.3 942.1l13.9 23.4h-27.8zM628.6 943.6l13.9 23.4h-27.8zM640.9 944.2l13.9 23.4h-27.8zM653.2 945.2l13.9 23.4h-27.8zM665.5 946l13.9 23.4h-27.8zM677.8 946.4l13.9 23.4h-27.8zM690.1 946.6l13.9 23.4h-27.8zM702.4 946.8l13.9 23.4h-27.8zM714.7 947.1l13.9 23.4h-27.8zM727 947.3l13.9 23.4h-27.8zM739.2 947.5l13.9 23.4h-27.8zM751.5 947.7l13.9 23.4h-27.8zM763.8 947.9l13.9 23.4h-27.8zM776.1 948.1l13.9 23.4h-27.8zM788.4 948.3l13.9 23.4h-27.8zM800.7 948.5l13.9 23.4h-27.8zM813 948.7l13.9 23.4h-27.8zM825.3 948.8l13.9 23.4h-27.8zM837.6 948.9l13.9 23.4h-27.8zM849.9 948.9l13.9 23.4h-27.8zM854.6 948.9l13.9 23.4h-27.8zM859.4 948.9l13.9 23.4h-27.8zM864.2 948.9l13.9 23.4h-27.8zM868.9 948.9l13.9 23.4h-27.8zM873.7 948.9l13.9 23.4h-27.8zM878.5 948.9l13.9 23.4h-27.8zM883.2 948.9l13.9 23.4h-27.8zM888 948.9l13.9 23.4h-27.8zM892.8 948.9l13.9 23.4h-27.8zM897.5 948.9l13.9 23.4h-27.8zM902.3 948.9l13.9 23.4h-27.8zM907 948.9l13.9 23.4h-27.8zM911.8 948.9l13.9 23.4h-27.8zM916.6 948.9l13.9 23.4h-27.8zM921.3 948.9l13.9 23.4h-27.8zM926.1 948.9l13.9 23.4h-27.8zM930.9 948.9l13.9 23.4h-27.8zM935.6 948.9l13.9 23.4h-27.8zM940.4 948.9l13.9 23.4h-27.8zM945.2 948.9l13.9 23.4h-27.8zM949.9 948.9l13.9 23.4h-27.8zM954.7 948.9l13.9 23.4h-27.8zM959.5 948.9l13.9 23.4h-27.8zM964.2 948.9l13.9 23.4h-27.8zM969 948.9l13.9 23.4h-27.8zM973.8 948.9l13.9 23.4h-27.8zM978.5 948.9l13.9 23.4h-27.8zM983.3 948.9l13.9 23.4h-27.8zM988.1 948.9l13.9 23.4h-27.8zM992.8 948.9l13.9 23.4h-27.8zM997.6 948.9l13.9 23.4h-27.8zM1002.4 948.9l13.9 23.4h-27.8zM1007.1 948.9l13.9 23.4h-27.8zM1011.9 948.9l13.9 23.4h-27.8zM1016.7 948.9l13.9 23.4h-27.8zM1021.4 948.9l13.9 23.4h-27.8zM1026.2 948.9l13.9 23.4h-27.8zM1031 948.9l13.9 23.4h-27.8zM1035.7 948.9l13.9 23.4h-27.8zM1040.5 948.9l13.9 23.4h-27.8zM1045.3 948.9l13.9 23.4h-27.8zM1050 948.9l13.9 23.4h-27.8zM1054.8 948.9l13.9 23.4h-27.8zM1059.6 948.9l13.9 23.4h-27.8zM1064.3 948.9l13.9 23.4h-27.8zM1069.1 948.9l13.9 23.4h-27.8zM1073.8 948.9l13.9 23.4h-27.8zM1078.6 948.9l13.9 23.4h-27.8zM1083.4 948.9l13.9 23.4h-27.8zM1088.1 948.9l13.9 23.4h-27.8zM1092.9 948.9l13.9 23.4h-27.8zM1097.7 948.9l13.9 23.4h-27.8zM1102.4 948.9l13.9 23.4h-27.8zM1107.2 948.9l13.9 23.4h-27.8zM1112 948.9l13.9 23.4h-27.8zM1116.7 948.9l13.9 23.4h-27.8zM1121.5 948.9l13.9 23.4h-27.8zM1126.3 948.9l13.9 23.4h-27.8zM1131 948.9l13.9 23.4h-27.8zM1135.8 948.9l13.9 23.4h-27.8zM1140.6 948.9l13.9 23.4h-27.8zM1145.3 948.9l13.9 23.4h-27.8zM1150.1 948.9l13.9 23.4h-27.8zM1154.9 948.9l13.9 23.4h-27.8zM1159.6 948.9l13.9 23.4h-27.8zM1164.4 948.9l13.9 23.4h-27.8zM1169.2 948.9l13.9 23.4h-27.8zM1173.9 948.9l13.9 23.4h-27.8zM1178.7 948.9l13.9 23.4h-27.8zM1183.5 948.9l13.9 23.4h-27.8zM1188.2 948.9l13.9 23.4h-27.8zM1193 948.9l13.9 23.4h-27.8zM1197.8 948.9l13.9 23.4h-27.8zM1202.5 948.9l13.9 23.4h-27.8zM1207.3 948.9l13.9 23.4h-27.8zM1212.1 948.9l13.9 23.4h-27.8zM1216.8 948.9l13.9 23.4h-27.8zM1221.6 948.9l13.9 23.4h-27.8zM1226.4 948.9l13.9 23.4h-27.8zM1231.1 948.9l13.9 23.4h-27.8zM1235.9 948.9l13.9 23.4h-27.8zM1240.6 948.9l13.9 23.4h-27.8zM1245.4 948.9l13.9 23.4h-27.8zM1250.2 948.9l13.9 23.4h-27.8zM1254.9 948.9l13.9 23.4h-27.8zM1259.7 948.9l13.9 23.4h-27.8zM1264.5 948.9l13.9 23.4h-27.8zM1269.2 948.9l13.9 23.4h-27.8zM1274 948.9l13.9 23.4h-27.8zM1278.8 948.9l13.9 23.4h-27.8zM1283.5 948.9l13.9 23.4h-27.8zM1288.3 948.9l13.9 23.4h-27.8zM1293.1 948.9l13.9 23.4h-27.8zM1297.8 948.9l13.9 23.4h-27.8zM1302.6 948.9l13.9 23.4h-27.8zM1307.4 948.9l13.9 23.4h-27.8zM1312.1 948.9l13.9 23.4h-27.8zM1316.9 948.9l13.9 23.4h-27.8z"/>
</g>
<g font-family='"Liberation Sans", Arial, Helvetica, sans-serif' fill="#000">
<text transform="translate(117.6 976.9) scale(1 1.041)" font-size="40.2" text-anchor="end">0</text>
<text transform="translate(117.6 850.5) scale(1 1.041)" font-size="40.2" text-anchor="end">2</text>
<text transform="translate(117.6 724.2) scale(1 1.041)" font-size="40.2" text-anchor="end">4</text>
<text transform="translate(117.6 597.8) scale(1 1.041)" font-size="40.2" text-anchor="end">6</text>
<text transform="translate(117.6 471.5) scale(1 1.041)" font-size="40.2" text-anchor="end">8</text>
<text transform="translate(117.6 345.1) scale(1 1.041)" font-size="40.2" text-anchor="end">10</text>
<text transform="translate(117.6 218.7) scale(1 1.041)" font-size="40.2" text-anchor="end">12</text>
<text transform="translate(117.6 92.4) scale(1 1.041)" font-size="40.2" text-anchor="end">14</text>
<text transform="translate(149.6 1027) scale(1 1.041)" font-size="40.2" text-anchor="middle">10</text>
<text transform="translate(383.1 1027) scale(1 1.041)" font-size="40.2" text-anchor="middle">100</text>
<text transform="translate(616.6 1027) scale(1 1.041)" font-size="40.2" text-anchor="middle">1000</text>
<text transform="translate(850.2 1027) scale(1 1.041)" font-size="40.2" text-anchor="middle">10000</text>
<text transform="translate(1083.7 1027) scale(1 1.041)" font-size="40.2" text-anchor="middle">100000</text>
<text transform="translate(1317.2 1027) scale(1 1.041)" font-size="40.2" text-anchor="middle">1000000</text>
<text transform="translate(52.5 491.8) rotate(-90) scale(1 1.041)" font-size="49.7" text-anchor="middle">Capacitance (µF)</text>
<text transform="translate(738.6 1104) scale(1 1.041)" font-size="49.9" text-anchor="middle">Frequency (Hz)</text>
</g>
<rect x="632.1" y="312.5" width="317.3" height="186.2" fill="#fff" stroke="#000" stroke-width="1.4"/>
<path stroke="#000" stroke-width="1.7" d="M650 350.9H761.4"/>
<path stroke="#f00" stroke-width="1.7" d="M650 410.6H761.4"/>
<path stroke="#00f" stroke-width="1.7" d="M650 471.6H761.4"/>
<rect fill="#000" x="695.6" y="340.7" width="20.4" height="20.4"/>
<circle fill="#f00" cx="705.8" cy="410.6" r="11.4"/>
<path fill="#00f" d="M705.8 457l13.9 23.4h-27.8z"/>
<g font-family='"Liberation Sans", Arial, Helvetica, sans-serif' fill="#000">
<text transform="translate(774.3 366.7) scale(1 1.03)" font-size="48.9" text-anchor="start">TGBF</text>
<text transform="translate(774.3 427.4) scale(1 1.03)" font-size="48.9" text-anchor="start">PVP-F</text>
<text transform="translate(774.3 488.6) scale(1 1.03)" font-size="48.9" text-anchor="start">Malto-F</text>
</g>
<g font-family='"Liberation Serif", "Times New Roman", serif' font-size="84" fill="#000">
<text x="663" y="1215.3">(</text>
<text font-weight="bold" transform="translate(690.1 1216) scale(1 1.0)">a</text>
<text x="732.1" y="1215.3">)</text>
</g>
<g stroke="#000" fill="none" stroke-linecap="round">
<path stroke-width="3.5" d="M123.8 1271.9 V2162.1"/>
<path stroke-width="3.4" d="M123.8 2145 H1314.5"/>
<path stroke-width="3.4" stroke-linecap="round" d="M105.5 2130.5H123.2M105.5 1987.4H123.2M105.5 1844.3H123.2M105.5 1701.2H123.2M105.5 1558.1H123.2M105.5 1415H123.2M105.5 1271.9H123.2M115 2058.9H123.2M115 1915.8H123.2M115 1772.8H123.2M115 1629.7H123.2M115 1486.6H123.2M115 1343.5H123.2M195.1 2145.4V2152.7M236.7 2145.4V2152.7M266.2 2145.4V2152.7M289.1 2145.4V2152.7M307.8 2145.4V2152.7M323.6 2145.4V2152.7M337.3 2145.4V2152.7M349.3 2145.4V2152.7M360.1 2145.4V2162.1M431.2 2145.4V2152.7M472.8 2145.4V2152.7M502.3 2145.4V2152.7M525.2 2145.4V2152.7M543.9 2145.4V2152.7M559.7 2145.4V2152.7M573.4 2145.4V2152.7M585.5 2145.4V2152.7M596.3 2145.4V2162.1M667.4 2145.4V2152.7M708.9 2145.4V2152.7M738.5 2145.4V2152.7M761.3 2145.4V2152.7M780 2145.4V2152.7M795.8 2145.4V2152.7M809.5 2145.4V2152.7M821.6 2145.4V2152.7M832.4 2145.4V2162.1M903.5 2145.4V2152.7M945.1 2145.4V2152.7M974.6 2145.4V2152.7M997.5 2145.4V2152.7M1016.2 2145.4V2152.7M1032 2145.4V2152.7M1045.7 2145.4V2152.7M1057.8 2145.4V2152.7M1068.6 2145.4V2162.1M1139.6 2145.4V2152.7M1181.2 2145.4V2152.7M1210.7 2145.4V2152.7M1233.6 2145.4V2152.7M1252.3 2145.4V2152.7M1268.1 2145.4V2152.7M1281.8 2145.4V2152.7M1293.9 2145.4V2152.7M1304.7 2145.4V2162.1"/>
</g>
<clipPath id="clipB"><rect x="123.8" y="1240" width="1192" height="905"/></clipPath>
<g clip-path="url(#clipB)">
<polyline fill="none" stroke="#000" stroke-width="1.6" points="124,2096.1 131.9,2094.6 139.7,2093.2 147.6,2091.7 155.5,2090.3 163.4,2088.9 171.2,2087.5 179.1,2086.1 187,2084.7 194.8,2083.4 202.7,2082.2 210.6,2081.1 218.5,2079.9 226.3,2078.9 234.2,2078 242.1,2077.1 249.9,2076.3 257.8,2075.6 265.7,2074.9 273.6,2074.3 281.4,2073.7 289.3,2073.2 297.2,2072.7 305,2072.2 312.9,2071.8 320.8,2071.3 328.7,2070.9 336.5,2070.5 344.4,2070.1 352.3,2069.8 360.1,2069.5 368,2069.2 375.9,2068.9 383.8,2068.7 391.6,2068.4 399.5,2068.2 407.4,2067.9 415.2,2067.7 423.1,2067.5 431,2067.3 438.9,2067.1 446.7,2066.9 454.6,2066.7 462.5,2066.5 470.3,2066.4 478.2,2066.2 486.1,2066.1 494,2066 501.8,2065.8 509.7,2065.7 517.6,2065.6 525.4,2065.5 533.3,2065.4 541.2,2065.2 549.1,2065.1 556.9,2065.1 564.8,2065 572.7,2064.9 580.5,2064.8 588.4,2064.7 596.3,2064.7 604.2,2064.6 612,2064.6 619.9,2064.6 627.8,2064.5 635.6,2064.5 643.5,2064.4 651.4,2064.4 659.3,2064.3 667.1,2064.3 675,2064.2 682.9,2064.2 690.7,2064.2 698.6,2064.1 706.5,2064.1 714.3,2064.1 722.2,2064 730.1,2064 738,2064 745.8,2063.9 753.7,2063.9 761.6,2063.9 769.4,2063.9 777.3,2063.9 785.2,2063.8 793.1,2063.8 800.9,2063.8 808.8,2063.8 816.7,2063.8 824.5,2063.8 832.4,2063.8 840.3,2063.8 848.2,2063.8 856,2063.8 863.9,2063.8 871.8,2063.8 879.6,2063.8 887.5,2063.8 895.4,2063.8 903.3,2063.8 911.1,2063.8 919,2063.8 926.9,2063.8 934.7,2063.9 942.6,2063.9 950.5,2063.9 958.4,2064 966.2,2064 974.1,2064.1 982,2064.1 989.8,2064.2 997.7,2064.2 1005.6,2064.3 1013.5,2064.4 1021.3,2064.5 1029.2,2064.5 1037.1,2064.6 1044.9,2064.7 1052.8,2064.8 1060.7,2064.9 1068.6,2065 1076.4,2065.1 1084.3,2065.3 1092.2,2065.6 1100,2065.9 1107.9,2066.2 1115.8,2066.6 1123.7,2067 1131.5,2067.4 1139.4,2067.8 1147.3,2068.2 1155.1,2068.6 1163,2069 1170.9,2069.4 1178.8,2069.8 1186.6,2070.1 1194.5,2070.4 1202.4,2070.7 1210.2,2071 1218.1,2071.2 1226,2071.5 1233.9,2071.8 1241.7,2072.1 1249.6,2072.4 1257.5,2072.8 1265.3,2073.3 1273.2,2073.7 1281.1,2073.8 1289,2073.8 1296.8,2073.9 1304.7,2073.9"/>
<path fill="#000" d="M114.2 2086.2h19.7v19.7h-19.7zM122 2084.7h19.7v19.7h-19.7zM129.9 2083.3h19.7v19.7h-19.7zM137.8 2081.9h19.7v19.7h-19.7zM145.6 2080.5h19.7v19.7h-19.7zM153.5 2079h19.7v19.7h-19.7zM161.4 2077.6h19.7v19.7h-19.7zM169.2 2076.2h19.7v19.7h-19.7zM177.1 2074.9h19.7v19.7h-19.7zM185 2073.6h19.7v19.7h-19.7zM192.9 2072.4h19.7v19.7h-19.7zM200.7 2071.2h19.7v19.7h-19.7zM208.6 2070.1h19.7v19.7h-19.7zM216.5 2069h19.7v19.7h-19.7zM224.3 2068.1h19.7v19.7h-19.7zM232.2 2067.3h19.7v19.7h-19.7zM240.1 2066.5h19.7v19.7h-19.7zM248 2065.7h19.7v19.7h-19.7zM255.8 2065.1h19.7v19.7h-19.7zM263.7 2064.4h19.7v19.7h-19.7zM271.6 2063.9h19.7v19.7h-19.7zM279.4 2063.4h19.7v19.7h-19.7zM287.3 2062.9h19.7v19.7h-19.7zM295.2 2062.4h19.7v19.7h-19.7zM303.1 2061.9h19.7v19.7h-19.7zM310.9 2061.5h19.7v19.7h-19.7zM318.8 2061.1h19.7v19.7h-19.7zM326.7 2060.7h19.7v19.7h-19.7zM334.5 2060.3h19.7v19.7h-19.7zM342.4 2060h19.7v19.7h-19.7zM350.3 2059.7h19.7v19.7h-19.7zM358.2 2059.4h19.7v19.7h-19.7zM366 2059.1h19.7v19.7h-19.7zM373.9 2058.8h19.7v19.7h-19.7zM381.8 2058.6h19.7v19.7h-19.7zM389.6 2058.3h19.7v19.7h-19.7zM397.5 2058.1h19.7v19.7h-19.7zM405.4 2057.8h19.7v19.7h-19.7zM413.3 2057.6h19.7v19.7h-19.7zM421.1 2057.4h19.7v19.7h-19.7zM429 2057.2h19.7v19.7h-19.7zM436.9 2057h19.7v19.7h-19.7zM444.7 2056.9h19.7v19.7h-19.7zM452.6 2056.7h19.7v19.7h-19.7zM460.5 2056.5h19.7v19.7h-19.7zM468.4 2056.4h19.7v19.7h-19.7zM476.2 2056.3h19.7v19.7h-19.7zM484.1 2056.1h19.7v19.7h-19.7zM492 2056h19.7v19.7h-19.7zM499.8 2055.9h19.7v19.7h-19.7zM507.7 2055.7h19.7v19.7h-19.7zM515.6 2055.6h19.7v19.7h-19.7zM523.5 2055.5h19.7v19.7h-19.7zM531.3 2055.4h19.7v19.7h-19.7zM539.2 2055.3h19.7v19.7h-19.7zM547.1 2055.2h19.7v19.7h-19.7zM554.9 2055.1h19.7v19.7h-19.7zM562.8 2055h19.7v19.7h-19.7zM570.7 2055h19.7v19.7h-19.7zM578.6 2054.9h19.7v19.7h-19.7zM586.4 2054.8h19.7v19.7h-19.7zM594.3 2054.8h19.7v19.7h-19.7zM602.2 2054.7h19.7v19.7h-19.7zM610 2054.7h19.7v19.7h-19.7zM617.9 2054.7h19.7v19.7h-19.7zM625.8 2054.6h19.7v19.7h-19.7zM633.7 2054.6h19.7v19.7h-19.7zM641.5 2054.5h19.7v19.7h-19.7zM649.4 2054.5h19.7v19.7h-19.7zM657.3 2054.4h19.7v19.7h-19.7zM665.1 2054.4h19.7v19.7h-19.7zM673 2054.4h19.7v19.7h-19.7zM680.9 2054.3h19.7v19.7h-19.7zM688.8 2054.3h19.7v19.7h-19.7zM696.6 2054.2h19.7v19.7h-19.7zM704.5 2054.2h19.7v19.7h-19.7zM712.4 2054.2h19.7v19.7h-19.7zM720.2 2054.2h19.7v19.7h-19.7zM728.1 2054.1h19.7v19.7h-19.7zM736 2054.1h19.7v19.7h-19.7zM743.9 2054.1h19.7v19.7h-19.7zM751.7 2054h19.7v19.7h-19.7zM759.6 2054h19.7v19.7h-19.7zM767.5 2054h19.7v19.7h-19.7zM775.3 2054h19.7v19.7h-19.7zM783.2 2054h19.7v19.7h-19.7zM791.1 2054h19.7v19.7h-19.7zM799 2054h19.7v19.7h-19.7zM806.8 2054h19.7v19.7h-19.7zM814.7 2054h19.7v19.7h-19.7zM822.6 2054h19.7v19.7h-19.7zM830.4 2054h19.7v19.7h-19.7zM838.3 2054h19.7v19.7h-19.7zM846.2 2054h19.7v19.7h-19.7zM854.1 2054h19.7v19.7h-19.7zM861.9 2054h19.7v19.7h-19.7zM869.8 2054h19.7v19.7h-19.7zM877.7 2054h19.7v19.7h-19.7zM885.5 2054h19.7v19.7h-19.7zM893.4 2054h19.7v19.7h-19.7zM901.3 2054h19.7v19.7h-19.7zM909.2 2054h19.7v19.7h-19.7zM917 2054h19.7v19.7h-19.7zM924.9 2054h19.7v19.7h-19.7zM932.8 2054h19.7v19.7h-19.7zM940.6 2054.1h19.7v19.7h-19.7zM948.5 2054.1h19.7v19.7h-19.7zM956.4 2054.2h19.7v19.7h-19.7zM964.3 2054.2h19.7v19.7h-19.7zM972.1 2054.3h19.7v19.7h-19.7zM980 2054.3h19.7v19.7h-19.7zM987.9 2054.4h19.7v19.7h-19.7zM995.7 2054.5h19.7v19.7h-19.7zM1003.6 2054.5h19.7v19.7h-19.7zM1011.5 2054.6h19.7v19.7h-19.7zM1019.4 2054.7h19.7v19.7h-19.7zM1027.2 2054.8h19.7v19.7h-19.7zM1035.1 2054.9h19.7v19.7h-19.7zM1043 2055h19.7v19.7h-19.7zM1050.8 2055.1h19.7v19.7h-19.7zM1058.7 2055.2h19.7v19.7h-19.7zM1066.6 2055.3h19.7v19.7h-19.7zM1074.5 2055.5h19.7v19.7h-19.7zM1082.3 2055.7h19.7v19.7h-19.7zM1090.2 2056h19.7v19.7h-19.7zM1098.1 2056.4h19.7v19.7h-19.7zM1105.9 2056.7h19.7v19.7h-19.7zM1113.8 2057.1h19.7v19.7h-19.7zM1121.7 2057.5h19.7v19.7h-19.7zM1129.6 2057.9h19.7v19.7h-19.7zM1137.4 2058.4h19.7v19.7h-19.7zM1145.3 2058.8h19.7v19.7h-19.7zM1153.2 2059.2h19.7v19.7h-19.7zM1161 2059.6h19.7v19.7h-19.7zM1168.9 2059.9h19.7v19.7h-19.7zM1176.8 2060.2h19.7v19.7h-19.7zM1184.7 2060.5h19.7v19.7h-19.7zM1192.5 2060.8h19.7v19.7h-19.7zM1200.4 2061.1h19.7v19.7h-19.7zM1208.3 2061.4h19.7v19.7h-19.7zM1216.1 2061.7h19.7v19.7h-19.7zM1224 2062h19.7v19.7h-19.7zM1231.9 2062.3h19.7v19.7h-19.7zM1239.8 2062.6h19.7v19.7h-19.7zM1247.6 2062.9h19.7v19.7h-19.7zM1255.5 2063.4h19.7v19.7h-19.7zM1263.4 2063.8h19.7v19.7h-19.7zM1271.2 2063.9h19.7v19.7h-19.7zM1279.1 2064h19.7v19.7h-19.7zM1287 2064h19.7v19.7h-19.7zM1294.8 2064h19.7v19.7h-19.7z"/>
<polyline fill="none" stroke="#f00" stroke-width="1.7" points="124,2079.1 195.1,2056.5 236.7,2044 266.2,2036.4 289.1,2031.5 307.8,2028.3 323.6,2025.5 337.3,2023 349.3,2021 360.1,2019.4 372.6,2017.8 385,2016.3 397.4,2015.1 409.9,2014.1 422.3,2013.3 434.7,2012.5 447.1,2011.8 459.6,2011.2 472,2010.5 484.4,2009.8 496.9,2009.1 509.3,2008.6 521.7,2008.1 534.1,2007.7 546.6,2007.2 559,2006.8 571.4,2006.5 583.9,2006.2 596.3,2006 608.7,2005.8 621.1,2005.7 633.6,2005.6 646,2005.4 658.4,2005.3 670.9,2005.3 683.3,2005.2 695.7,2005.1 708.1,2005 720.6,2004.9 733,2004.8 745.4,2004.7 757.8,2004.6 770.3,2004.4 782.7,2004.2 795.1,2004 807.6,2003.9 820,2003.7 832.4,2003.7 837.2,2003.7 842.1,2003.7 846.9,2003.7 851.7,2003.7 856.5,2003.7 861.3,2003.7 866.2,2003.8 871,2003.8 875.8,2003.8 880.6,2003.8 885.4,2003.8 890.3,2003.9 895.1,2003.9 899.9,2003.9 904.7,2003.9 909.5,2003.9 914.3,2004 919.2,2004 924,2004 928.8,2004.1 933.6,2004.1 938.4,2004.1 943.3,2004.2 948.1,2004.2 952.9,2004.2 957.7,2004.3 962.5,2004.3 967.4,2004.4 972.2,2004.4 977,2004.5 981.8,2004.5 986.6,2004.6 991.5,2004.6 996.3,2004.7 1001.1,2004.7 1005.9,2004.8 1010.7,2004.8 1015.5,2004.9 1020.4,2005 1025.2,2005 1030,2005.1 1034.8,2005.2 1039.6,2005.2 1044.5,2005.3 1049.3,2005.4 1054.1,2005.5 1058.9,2005.5 1063.7,2005.6 1068.6,2005.7 1073.4,2005.8 1078.2,2005.9 1083,2006 1087.8,2006.1 1092.7,2006.3 1097.5,2006.4 1102.3,2006.6 1107.1,2006.7 1111.9,2006.9 1116.8,2007.1 1121.6,2007.3 1126.4,2007.5 1131.2,2007.7 1136,2007.9 1140.8,2008.1 1145.7,2008.3 1150.5,2008.5 1155.3,2008.7 1160.1,2008.9 1164.9,2009.1 1169.8,2009.3 1174.6,2009.5 1179.4,2009.7 1184.2,2009.9 1189,2010.1 1193.9,2010.3 1198.7,2010.5 1203.5,2010.7 1208.3,2010.8 1213.1,2011 1218,2011.2 1222.8,2011.4 1227.6,2011.7 1232.4,2011.9 1237.2,2012.1 1242.1,2012.3 1246.9,2012.6 1251.7,2012.9 1256.5,2013.2 1261.3,2013.5 1266.1,2014 1271,2014.5 1275.8,2015 1280.6,2015.3 1285.4,2015.5 1290.2,2015.6 1295.1,2015.7 1299.9,2015.8 1304.7,2015.8"/>
<path fill="#f00" d="M113.2 2079.1a10.8 10.8 0 1 0 21.6 0a10.8 10.8 0 1 0 -21.6 0zM184.3 2056.5a10.8 10.8 0 1 0 21.6 0a10.8 10.8 0 1 0 -21.6 0zM225.9 2044a10.8 10.8 0 1 0 21.6 0a10.8 10.8 0 1 0 -21.6 0zM255.4 2036.4a10.8 10.8 0 1 0 21.6 0a10.8 10.8 0 1 0 -21.6 0zM278.3 2031.5a10.8 10.8 0 1 0 21.6 0a10.8 10.8 0 1 0 -21.6 0zM297 2028.3a10.8 10.8 0 1 0 21.6 0a10.8 10.8 0 1 0 -21.6 0zM312.8 2025.5a10.8 10.8 0 1 0 21.6 0a10.8 10.8 0 1 0 -21.6 0zM326.5 2023a10.8 10.8 0 1 0 21.6 0a10.8 10.8 0 1 0 -21.6 0zM338.5 2021a10.8 10.8 0 1 0 21.6 0a10.8 10.8 0 1 0 -21.6 0zM349.3 2019.4a10.8 10.8 0 1 0 21.6 0a10.8 10.8 0 1 0 -21.6 0zM361.8 2017.8a10.8 10.8 0 1 0 21.6 0a10.8 10.8 0 1 0 -21.6 0zM374.2 2016.3a10.8 10.8 0 1 0 21.6 0a10.8 10.8 0 1 0 -21.6 0zM386.6 2015.1a10.8 10.8 0 1 0 21.6 0a10.8 10.8 0 1 0 -21.6 0zM399.1 2014.1a10.8 10.8 0 1 0 21.6 0a10.8 10.8 0 1 0 -21.6 0zM411.5 2013.3a10.8 10.8 0 1 0 21.6 0a10.8 10.8 0 1 0 -21.6 0zM423.9 2012.5a10.8 10.8 0 1 0 21.6 0a10.8 10.8 0 1 0 -21.6 0zM436.3 2011.8a10.8 10.8 0 1 0 21.6 0a10.8 10.8 0 1 0 -21.6 0zM448.8 2011.2a10.8 10.8 0 1 0 21.6 0a10.8 10.8 0 1 0 -21.6 0zM461.2 2010.5a10.8 10.8 0 1 0 21.6 0a10.8 10.8 0 1 0 -21.6 0zM473.6 2009.8a10.8 10.8 0 1 0 21.6 0a10.8 10.8 0 1 0 -21.6 0zM486.1 2009.1a10.8 10.8 0 1 0 21.6 0a10.8 10.8 0 1 0 -21.6 0zM498.5 2008.6a10.8 10.8 0 1 0 21.6 0a10.8 10.8 0 1 0 -21.6 0zM510.9 2008.1a10.8 10.8 0 1 0 21.6 0a10.8 10.8 0 1 0 -21.6 0zM523.3 2007.7a10.8 10.8 0 1 0 21.6 0a10.8 10.8 0 1 0 -21.6 0zM535.8 2007.2a10.8 10.8 0 1 0 21.6 0a10.8 10.8 0 1 0 -21.6 0zM548.2 2006.8a10.8 10.8 0 1 0 21.6 0a10.8 10.8 0 1 0 -21.6 0zM560.6 2006.5a10.8 10.8 0 1 0 21.6 0a10.8 10.8 0 1 0 -21.6 0zM573.1 2006.2a10.8 10.8 0 1 0 21.6 0a10.8 10.8 0 1 0 -21.6 0zM585.5 2006a10.8 10.8 0 1 0 21.6 0a10.8 10.8 0 1 0 -21.6 0zM597.9 2005.8a10.8 10.8 0 1 0 21.6 0a10.8 10.8 0 1 0 -21.6 0zM610.3 2005.7a10.8 10.8 0 1 0 21.6 0a10.8 10.8 0 1 0 -21.6 0zM622.8 2005.6a10.8 10.8 0 1 0 21.6 0a10.8 10.8 0 1 0 -21.6 0zM635.2 2005.4a10.8 10.8 0 1 0 21.6 0a10.8 10.8 0 1 0 -21.6 0zM647.6 2005.3a10.8 10.8 0 1 0 21.6 0a10.8 10.8 0 1 0 -21.6 0zM660.1 2005.3a10.8 10.8 0 1 0 21.6 0a10.8 10.8 0 1 0 -21.6 0zM672.5 2005.2a10.8 10.8 0 1 0 21.6 0a10.8 10.8 0 1 0 -21.6 0zM684.9 2005.1a10.8 10.8 0 1 0 21.6 0a10.8 10.8 0 1 0 -21.6 0zM697.3 2005a10.8 10.8 0 1 0 21.6 0a10.8 10.8 0 1 0 -21.6 0zM709.8 2004.9a10.8 10.8 0 1 0 21.6 0a10.8 10.8 0 1 0 -21.6 0zM722.2 2004.8a10.8 10.8 0 1 0 21.6 0a10.8 10.8 0 1 0 -21.6 0zM734.6 2004.7a10.8 10.8 0 1 0 21.6 0a10.8 10.8 0 1 0 -21.6 0zM747 2004.6a10.8 10.8 0 1 0 21.6 0a10.8 10.8 0 1 0 -21.6 0zM759.5 2004.4a10.8 10.8 0 1 0 21.6 0a10.8 10.8 0 1 0 -21.6 0zM771.9 2004.2a10.8 10.8 0 1 0 21.6 0a10.8 10.8 0 1 0 -21.6 0zM784.3 2004a10.8 10.8 0 1 0 21.6 0a10.8 10.8 0 1 0 -21.6 0zM796.8 2003.9a10.8 10.8 0 1 0 21.6 0a10.8 10.8 0 1 0 -21.6 0zM809.2 2003.7a10.8 10.8 0 1 0 21.6 0a10.8 10.8 0 1 0 -21.6 0zM821.6 2003.7a10.8 10.8 0 1 0 21.6 0a10.8 10.8 0 1 0 -21.6 0zM826.4 2003.7a10.8 10.8 0 1 0 21.6 0a10.8 10.8 0 1 0 -21.6 0zM831.3 2003.7a10.8 10.8 0 1 0 21.6 0a10.8 10.8 0 1 0 -21.6 0zM836.1 2003.7a10.8 10.8 0 1 0 21.6 0a10.8 10.8 0 1 0 -21.6 0zM840.9 2003.7a10.8 10.8 0 1 0 21.6 0a10.8 10.8 0 1 0 -21.6 0zM845.7 2003.7a10.8 10.8 0 1 0 21.6 0a10.8 10.8 0 1 0 -21.6 0zM850.5 2003.7a10.8 10.8 0 1 0 21.6 0a10.8 10.8 0 1 0 -21.6 0zM855.4 2003.8a10.8 10.8 0 1 0 21.6 0a10.8 10.8 0 1 0 -21.6 0zM860.2 2003.8a10.8 10.8 0 1 0 21.6 0a10.8 10.8 0 1 0 -21.6 0zM865 2003.8a10.8 10.8 0 1 0 21.6 0a10.8 10.8 0 1 0 -21.6 0zM869.8 2003.8a10.8 10.8 0 1 0 21.6 0a10.8 10.8 0 1 0 -21.6 0zM874.6 2003.8a10.8 10.8 0 1 0 21.6 0a10.8 10.8 0 1 0 -21.6 0zM879.5 2003.9a10.8 10.8 0 1 0 21.6 0a10.8 10.8 0 1 0 -21.6 0zM884.3 2003.9a10.8 10.8 0 1 0 21.6 0a10.8 10.8 0 1 0 -21.6 0zM889.1 2003.9a10.8 10.8 0 1 0 21.6 0a10.8 10.8 0 1 0 -21.6 0zM893.9 2003.9a10.8 10.8 0 1 0 21.6 0a10.8 10.8 0 1 0 -21.6 0zM898.7 2003.9a10.8 10.8 0 1 0 21.6 0a10.8 10.8 0 1 0 -21.6 0zM903.5 2004a10.8 10.8 0 1 0 21.6 0a10.8 10.8 0 1 0 -21.6 0zM908.4 2004a10.8 10.8 0 1 0 21.6 0a10.8 10.8 0 1 0 -21.6 0zM913.2 2004a10.8 10.8 0 1 0 21.6 0a10.8 10.8 0 1 0 -21.6 0zM918 2004.1a10.8 10.8 0 1 0 21.6 0a10.8 10.8 0 1 0 -21.6 0zM922.8 2004.1a10.8 10.8 0 1 0 21.6 0a10.8 10.8 0 1 0 -21.6 0zM927.6 2004.1a10.8 10.8 0 1 0 21.6 0a10.8 10.8 0 1 0 -21.6 0zM932.5 2004.2a10.8 10.8 0 1 0 21.6 0a10.8 10.8 0 1 0 -21.6 0zM937.3 2004.2a10.8 10.8 0 1 0 21.6 0a10.8 10.8 0 1 0 -21.6 0zM942.1 2004.2a10.8 10.8 0 1 0 21.6 0a10.8 10.8 0 1 0 -21.6 0zM946.9 2004.3a10.8 10.8 0 1 0 21.6 0a10.8 10.8 0 1 0 -21.6 0zM951.7 2004.3a10.8 10.8 0 1 0 21.6 0a10.8 10.8 0 1 0 -21.6 0zM956.6 2004.4a10.8 10.8 0 1 0 21.6 0a10.8 10.8 0 1 0 -21.6 0zM961.4 2004.4a10.8 10.8 0 1 0 21.6 0a10.8 10.8 0 1 0 -21.6 0zM966.2 2004.5a10.8 10.8 0 1 0 21.6 0a10.8 10.8 0 1 0 -21.6 0zM971 2004.5a10.8 10.8 0 1 0 21.6 0a10.8 10.8 0 1 0 -21.6 0zM975.8 2004.6a10.8 10.8 0 1 0 21.6 0a10.8 10.8 0 1 0 -21.6 0zM980.7 2004.6a10.8 10.8 0 1 0 21.6 0a10.8 10.8 0 1 0 -21.6 0zM985.5 2004.7a10.8 10.8 0 1 0 21.6 0a10.8 10.8 0 1 0 -21.6 0zM990.3 2004.7a10.8 10.8 0 1 0 21.6 0a10.8 10.8 0 1 0 -21.6 0zM995.1 2004.8a10.8 10.8 0 1 0 21.6 0a10.8 10.8 0 1 0 -21.6 0zM999.9 2004.8a10.8 10.8 0 1 0 21.6 0a10.8 10.8 0 1 0 -21.6 0zM1004.7 2004.9a10.8 10.8 0 1 0 21.6 0a10.8 10.8 0 1 0 -21.6 0zM1009.6 2005a10.8 10.8 0 1 0 21.6 0a10.8 10.8 0 1 0 -21.6 0zM1014.4 2005a10.8 10.8 0 1 0 21.6 0a10.8 10.8 0 1 0 -21.6 0zM1019.2 2005.1a10.8 10.8 0 1 0 21.6 0a10.8 10.8 0 1 0 -21.6 0zM1024 2005.2a10.8 10.8 0 1 0 21.6 0a10.8 10.8 0 1 0 -21.6 0zM1028.8 2005.2a10.8 10.8 0 1 0 21.6 0a10.8 10.8 0 1 0 -21.6 0zM1033.7 2005.3a10.8 10.8 0 1 0 21.6 0a10.8 10.8 0 1 0 -21.6 0zM1038.5 2005.4a10.8 10.8 0 1 0 21.6 0a10.8 10.8 0 1 0 -21.6 0zM1043.3 2005.5a10.8 10.8 0 1 0 21.6 0a10.8 10.8 0 1 0 -21.6 0zM1048.1 2005.5a10.8 10.8 0 1 0 21.6 0a10.8 10.8 0 1 0 -21.6 0zM1052.9 2005.6a10.8 10.8 0 1 0 21.6 0a10.8 10.8 0 1 0 -21.6 0zM1057.8 2005.7a10.8 10.8 0 1 0 21.6 0a10.8 10.8 0 1 0 -21.6 0zM1062.6 2005.8a10.8 10.8 0 1 0 21.6 0a10.8 10.8 0 1 0 -21.6 0zM1067.4 2005.9a10.8 10.8 0 1 0 21.6 0a10.8 10.8 0 1 0 -21.6 0zM1072.2 2006a10.8 10.8 0 1 0 21.6 0a10.8 10.8 0 1 0 -21.6 0zM1077 2006.1a10.8 10.8 0 1 0 21.6 0a10.8 10.8 0 1 0 -21.6 0zM1081.9 2006.3a10.8 10.8 0 1 0 21.6 0a10.8 10.8 0 1 0 -21.6 0zM1086.7 2006.4a10.8 10.8 0 1 0 21.6 0a10.8 10.8 0 1 0 -21.6 0zM1091.5 2006.6a10.8 10.8 0 1 0 21.6 0a10.8 10.8 0 1 0 -21.6 0zM1096.3 2006.7a10.8 10.8 0 1 0 21.6 0a10.8 10.8 0 1 0 -21.6 0zM1101.1 2006.9a10.8 10.8 0 1 0 21.6 0a10.8 10.8 0 1 0 -21.6 0zM1106 2007.1a10.8 10.8 0 1 0 21.6 0a10.8 10.8 0 1 0 -21.6 0zM1110.8 2007.3a10.8 10.8 0 1 0 21.6 0a10.8 10.8 0 1 0 -21.6 0zM1115.6 2007.5a10.8 10.8 0 1 0 21.6 0a10.8 10.8 0 1 0 -21.6 0zM1120.4 2007.7a10.8 10.8 0 1 0 21.6 0a10.8 10.8 0 1 0 -21.6 0zM1125.2 2007.9a10.8 10.8 0 1 0 21.6 0a10.8 10.8 0 1 0 -21.6 0zM1130 2008.1a10.8 10.8 0 1 0 21.6 0a10.8 10.8 0 1 0 -21.6 0zM1134.9 2008.3a10.8 10.8 0 1 0 21.6 0a10.8 10.8 0 1 0 -21.6 0zM1139.7 2008.5a10.8 10.8 0 1 0 21.6 0a10.8 10.8 0 1 0 -21.6 0zM1144.5 2008.7a10.8 10.8 0 1 0 21.6 0a10.8 10.8 0 1 0 -21.6 0zM1149.3 2008.9a10.8 10.8 0 1 0 21.6 0a10.8 10.8 0 1 0 -21.6 0zM1154.1 2009.1a10.8 10.8 0 1 0 21.6 0a10.8 10.8 0 1 0 -21.6 0zM1159 2009.3a10.8 10.8 0 1 0 21.6 0a10.8 10.8 0 1 0 -21.6 0zM1163.8 2009.5a10.8 10.8 0 1 0 21.6 0a10.8 10.8 0 1 0 -21.6 0zM1168.6 2009.7a10.8 10.8 0 1 0 21.6 0a10.8 10.8 0 1 0 -21.6 0zM1173.4 2009.9a10.8 10.8 0 1 0 21.6 0a10.8 10.8 0 1 0 -21.6 0zM1178.2 2010.1a10.8 10.8 0 1 0 21.6 0a10.8 10.8 0 1 0 -21.6 0zM1183.1 2010.3a10.8 10.8 0 1 0 21.6 0a10.8 10.8 0 1 0 -21.6 0zM1187.9 2010.5a10.8 10.8 0 1 0 21.6 0a10.8 10.8 0 1 0 -21.6 0zM1192.7 2010.7a10.8 10.8 0 1 0 21.6 0a10.8 10.8 0 1 0 -21.6 0zM1197.5 2010.8a10.8 10.8 0 1 0 21.6 0a10.8 10.8 0 1 0 -21.6 0zM1202.3 2011a10.8 10.8 0 1 0 21.6 0a10.8 10.8 0 1 0 -21.6 0zM1207.2 2011.2a10.8 10.8 0 1 0 21.6 0a10.8 10.8 0 1 0 -21.6 0zM1212 2011.4a10.8 10.8 0 1 0 21.6 0a10.8 10.8 0 1 0 -21.6 0zM1216.8 2011.7a10.8 10.8 0 1 0 21.6 0a10.8 10.8 0 1 0 -21.6 0zM1221.6 2011.9a10.8 10.8 0 1 0 21.6 0a10.8 10.8 0 1 0 -21.6 0zM1226.4 2012.1a10.8 10.8 0 1 0 21.6 0a10.8 10.8 0 1 0 -21.6 0zM1231.3 2012.3a10.8 10.8 0 1 0 21.6 0a10.8 10.8 0 1 0 -21.6 0zM1236.1 2012.6a10.8 10.8 0 1 0 21.6 0a10.8 10.8 0 1 0 -21.6 0zM1240.9 2012.9a10.8 10.8 0 1 0 21.6 0a10.8 10.8 0 1 0 -21.6 0zM1245.7 2013.2a10.8 10.8 0 1 0 21.6 0a10.8 10.8 0 1 0 -21.6 0zM1250.5 2013.5a10.8 10.8 0 1 0 21.6 0a10.8 10.8 0 1 0 -21.6 0zM1255.3 2014a10.8 10.8 0 1 0 21.6 0a10.8 10.8 0 1 0 -21.6 0zM1260.2 2014.5a10.8 10.8 0 1 0 21.6 0a10.8 10.8 0 1 0 -21.6 0zM1265 2015a10.8 10.8 0 1 0 21.6 0a10.8 10.8 0 1 0 -21.6 0zM1269.8 2015.3a10.8 10.8 0 1 0 21.6 0a10.8 10.8 0 1 0 -21.6 0zM1274.6 2015.5a10.8 10.8 0 1 0 21.6 0a10.8 10.8 0 1 0 -21.6 0zM1279.4 2015.6a10.8 10.8 0 1 0 21.6 0a10.8 10.8 0 1 0 -21.6 0zM1284.3 2015.7a10.8 10.8 0 1 0 21.6 0a10.8 10.8 0 1 0 -21.6 0zM1289.1 2015.8a10.8 10.8 0 1 0 21.6 0a10.8 10.8 0 1 0 -21.6 0zM1293.9 2015.8a10.8 10.8 0 1 0 21.6 0a10.8 10.8 0 1 0 -21.6 0z"/>
<polyline fill="none" stroke="#00f" stroke-width="1.8" points="124,2086.2 195.1,2017.9 236.7,1948.7 266.2,1890 289.1,1842.2 307.8,1802.5 323.6,1769.1 337.3,1742 349.3,1718.3 360.1,1699 372.6,1676.5 385,1654.7 397.4,1634.6 409.9,1614.6 422.3,1595.9 434.7,1578.1 447.1,1559.9 459.6,1542.9 472,1527 484.4,1512.8 496.9,1498.7 509.3,1487.5 521.7,1475.8 534.1,1465.2 546.6,1455.6 559,1446.5 571.4,1438.8 583.9,1431.7 596.3,1425.7 608.7,1420 621.1,1415.1 633.6,1410.5 646,1407 658.4,1403.4 670.9,1399.9 683.3,1397.1 695.7,1394.6 708.1,1392.1 720.6,1390 733,1387.9 745.4,1386.1 757.8,1384.3 770.3,1382.9 782.7,1381.6 795.1,1380.1 807.6,1379.1 820,1378 832.4,1377.5 837.2,1377.2 842.1,1376.8 846.9,1376.4 851.7,1375.9 856.5,1375.4 861.3,1374.8 866.2,1374.3 871,1373.7 875.8,1373.2 880.6,1372.7 885.4,1372.3 890.3,1371.9 895.1,1371.5 899.9,1371.2 904.7,1370.8 909.5,1370.5 914.3,1370.2 919.2,1369.9 924,1369.6 928.8,1369.2 933.6,1368.9 938.4,1368.6 943.3,1368.4 948.1,1368.1 952.9,1367.8 957.7,1367.5 962.5,1367.3 967.4,1367 972.2,1366.7 977,1366.5 981.8,1366.2 986.6,1365.9 991.5,1365.7 996.3,1365.4 1001.1,1365.2 1005.9,1364.9 1010.7,1364.7 1015.5,1364.5 1020.4,1364.3 1025.2,1364.1 1030,1363.9 1034.8,1363.7 1039.6,1363.5 1044.5,1363.3 1049.3,1363.1 1054.1,1363 1058.9,1362.8 1063.7,1362.6 1068.6,1362.4 1073.4,1362.2 1078.2,1362 1083,1361.8 1087.8,1361.7 1092.7,1361.6 1097.5,1361.6 1102.3,1361.6 1107.1,1361.7 1111.9,1361.8 1116.8,1362 1121.6,1362.1 1126.4,1362.3 1131.2,1362.5 1136,1362.7 1140.8,1362.9 1145.7,1363.1 1150.5,1363.5 1155.3,1363.9 1160.1,1364.4 1164.9,1364.9 1169.8,1365.4 1174.6,1366 1179.4,1366.6 1184.2,1367.2 1189,1367.8 1193.9,1368.4 1198.7,1369.1 1203.5,1369.8 1208.3,1370.5 1213.1,1371.3 1218,1372.1 1222.8,1372.9 1227.6,1373.8 1232.4,1374.6 1237.2,1375.4 1242.1,1376.3 1246.9,1377.2 1251.7,1378.3 1256.5,1379.5 1261.3,1380.9 1266.1,1382.8 1271,1385.3 1275.8,1388.1 1280.6,1391.2 1285.4,1395 1290.2,1398.8 1295.1,1402 1299.9,1405 1304.7,1407.8"/>
<path fill="#00f" d="M124 2071.4l13 21.6h-26zM195.1 2003.1l13 21.6h-26zM236.7 1933.9l13 21.6h-26zM266.2 1875.2l13 21.6h-26zM289.1 1827.4l13 21.6h-26zM307.8 1787.7l13 21.6h-26zM323.6 1754.3l13 21.6h-26zM337.3 1727.2l13 21.6h-26zM349.3 1703.5l13 21.6h-26zM360.1 1684.2l13 21.6h-26zM372.6 1661.7l13 21.6h-26zM385 1639.9l13 21.6h-26zM397.4 1619.8l13 21.6h-26zM409.9 1599.8l13 21.6h-26zM422.3 1581.1l13 21.6h-26zM434.7 1563.3l13 21.6h-26zM447.1 1545.1l13 21.6h-26zM459.6 1528.1l13 21.6h-26zM472 1512.2l13 21.6h-26zM484.4 1498l13 21.6h-26zM496.9 1483.9l13 21.6h-26zM509.3 1472.7l13 21.6h-26zM521.7 1461l13 21.6h-26zM534.1 1450.4l13 21.6h-26zM546.6 1440.8l13 21.6h-26zM559 1431.7l13 21.6h-26zM571.4 1424l13 21.6h-26zM583.9 1416.9l13 21.6h-26zM596.3 1410.9l13 21.6h-26zM608.7 1405.2l13 21.6h-26zM621.1 1400.3l13 21.6h-26zM633.6 1395.7l13 21.6h-26zM646 1392.2l13 21.6h-26zM658.4 1388.6l13 21.6h-26zM670.9 1385.1l13 21.6h-26zM683.3 1382.3l13 21.6h-26zM695.7 1379.8l13 21.6h-26zM708.1 1377.3l13 21.6h-26zM720.6 1375.2l13 21.6h-26zM733 1373.1l13 21.6h-26zM745.4 1371.3l13 21.6h-26zM757.8 1369.5l13 21.6h-26zM770.3 1368.1l13 21.6h-26zM782.7 1366.8l13 21.6h-26zM795.1 1365.3l13 21.6h-26zM807.6 1364.3l13 21.6h-26zM820 1363.2l13 21.6h-26zM832.4 1362.7l13 21.6h-26zM837.2 1362.4l13 21.6h-26zM842.1 1362l13 21.6h-26zM846.9 1361.6l13 21.6h-26zM851.7 1361.1l13 21.6h-26zM856.5 1360.6l13 21.6h-26zM861.3 1360l13 21.6h-26zM866.2 1359.5l13 21.6h-26zM871 1358.9l13 21.6h-26zM875.8 1358.4l13 21.6h-26zM880.6 1357.9l13 21.6h-26zM885.4 1357.5l13 21.6h-26zM890.3 1357.1l13 21.6h-26zM895.1 1356.7l13 21.6h-26zM899.9 1356.4l13 21.6h-26zM904.7 1356l13 21.6h-26zM909.5 1355.7l13 21.6h-26zM914.3 1355.4l13 21.6h-26zM919.2 1355.1l13 21.6h-26zM924 1354.8l13 21.6h-26zM928.8 1354.4l13 21.6h-26zM933.6 1354.1l13 21.6h-26zM938.4 1353.8l13 21.6h-26zM943.3 1353.6l13 21.6h-26zM948.1 1353.3l13 21.6h-26zM952.9 1353l13 21.6h-26zM957.7 1352.7l13 21.6h-26zM962.5 1352.5l13 21.6h-26zM967.4 1352.2l13 21.6h-26zM972.2 1351.9l13 21.6h-26zM977 1351.7l13 21.6h-26zM981.8 1351.4l13 21.6h-26zM986.6 1351.1l13 21.6h-26zM991.5 1350.9l13 21.6h-26zM996.3 1350.6l13 21.6h-26zM1001.1 1350.4l13 21.6h-26zM1005.9 1350.1l13 21.6h-26zM1010.7 1349.9l13 21.6h-26zM1015.5 1349.7l13 21.6h-26zM1020.4 1349.5l13 21.6h-26zM1025.2 1349.3l13 21.6h-26zM1030 1349.1l13 21.6h-26zM1034.8 1348.9l13 21.6h-26zM1039.6 1348.7l13 21.6h-26zM1044.5 1348.5l13 21.6h-26zM1049.3 1348.3l13 21.6h-26zM1054.1 1348.2l13 21.6h-26zM1058.9 1348l13 21.6h-26zM1063.7 1347.8l13 21.6h-26zM1068.6 1347.6l13 21.6h-26zM1073.4 1347.4l13 21.6h-26zM1078.2 1347.2l13 21.6h-26zM1083 1347l13 21.6h-26zM1087.8 1346.9l13 21.6h-26zM1092.7 1346.8l13 21.6h-26zM1097.5 1346.8l13 21.6h-26zM1102.3 1346.8l13 21.6h-26zM1107.1 1346.9l13 21.6h-26zM1111.9 1347l13 21.6h-26zM1116.8 1347.2l13 21.6h-26zM1121.6 1347.3l13 21.6h-26zM1126.4 1347.5l13 21.6h-26zM1131.2 1347.7l13 21.6h-26zM1136 1347.9l13 21.6h-26zM1140.8 1348.1l13 21.6h-26zM1145.7 1348.3l13 21.6h-26zM1150.5 1348.7l13 21.6h-26zM1155.3 1349.1l13 21.6h-26zM1160.1 1349.6l13 21.6h-26zM1164.9 1350.1l13 21.6h-26zM1169.8 1350.6l13 21.6h-26zM1174.6 1351.2l13 21.6h-26zM1179.4 1351.8l13 21.6h-26zM1184.2 1352.4l13 21.6h-26zM1189 1353l13 21.6h-26zM1193.9 1353.6l13 21.6h-26zM1198.7 1354.3l13 21.6h-26zM1203.5 1355l13 21.6h-26zM1208.3 1355.7l13 21.6h-26zM1213.1 1356.5l13 21.6h-26zM1218 1357.3l13 21.6h-26zM1222.8 1358.1l13 21.6h-26zM1227.6 1359l13 21.6h-26zM1232.4 1359.8l13 21.6h-26zM1237.2 1360.6l13 21.6h-26zM1242.1 1361.5l13 21.6h-26zM1246.9 1362.4l13 21.6h-26zM1251.7 1363.5l13 21.6h-26zM1256.5 1364.7l13 21.6h-26zM1261.3 1366.1l13 21.6h-26zM1266.1 1368l13 21.6h-26zM1271 1370.5l13 21.6h-26zM1275.8 1373.3l13 21.6h-26zM1280.6 1376.4l13 21.6h-26zM1285.4 1380.2l13 21.6h-26zM1290.2 1384l13 21.6h-26zM1295.1 1387.2l13 21.6h-26zM1299.9 1390.2l13 21.6h-26zM1304.7 1393l13 21.6h-26z"/>
</g>
<g font-family='"Liberation Sans", Arial, Helvetica, sans-serif' fill="#000">
<text transform="translate(93.6 2141.4) scale(1 1.041)" font-size="38.4" text-anchor="end">0</text>
<text transform="translate(93.6 1998.3) scale(1 1.041)" font-size="38.4" text-anchor="end">1</text>
<text transform="translate(93.6 1855.2) scale(1 1.041)" font-size="38.4" text-anchor="end">2</text>
<text transform="translate(93.6 1712.1) scale(1 1.041)" font-size="38.4" text-anchor="end">3</text>
<text transform="translate(93.6 1569) scale(1 1.041)" font-size="38.4" text-anchor="end">4</text>
<text transform="translate(93.6 1425.9) scale(1 1.041)" font-size="38.4" text-anchor="end">5</text>
<text transform="translate(93.6 1282.8) scale(1 1.041)" font-size="38.4" text-anchor="end">6</text>
<text transform="translate(124.3 2205) scale(1 1.041)" font-size="38.4" text-anchor="middle">10</text>
<text transform="translate(360.4 2205) scale(1 1.041)" font-size="38.4" text-anchor="middle">100</text>
<text transform="translate(596.6 2205) scale(1 1.041)" font-size="38.4" text-anchor="middle">1000</text>
<text transform="translate(832.7 2205) scale(1 1.041)" font-size="38.4" text-anchor="middle">10000</text>
<text transform="translate(1068.9 2205) scale(1 1.041)" font-size="38.4" text-anchor="middle">100000</text>
<text transform="translate(1305 2205) scale(1 1.041)" font-size="38.4" text-anchor="middle">1000000</text>
<text transform="translate(52.4 1708.1) rotate(-90) scale(1 1.041)" font-size="47.4" text-anchor="middle">Conductivity (mS)</text>
<text transform="translate(720.6 2277.5) scale(1 1.041)" font-size="47.6" text-anchor="middle">Frequency (Hz)</text>
</g>
<rect x="649.4" y="1537.3" width="303.6" height="178.9" fill="#fff" stroke="#000" stroke-width="1.4"/>
<path stroke="#000" stroke-width="1.7" d="M667.3 1574.3H773.5"/>
<path stroke="#f00" stroke-width="1.7" d="M667.3 1632.4H773.5"/>
<path stroke="#00f" stroke-width="1.7" d="M667.3 1690.4H773.5"/>
<rect fill="#000" x="710.1" y="1564.5" width="19.7" height="19.7"/>
<circle fill="#f00" cx="720" cy="1632.4" r="11.1"/>
<path fill="#00f" d="M720 1675.4l13 21.6h-26z"/>
<g font-family='"Liberation Sans", Arial, Helvetica, sans-serif' fill="#000">
<text transform="translate(785.6 1590.1) scale(1 1.026)" font-size="46.9" text-anchor="start">TGBF</text>
<text transform="translate(785.6 1648.1) scale(1 1.026)" font-size="46.9" text-anchor="start">PVP-F</text>
<text transform="translate(785.6 1705.4) scale(1 1.026)" font-size="46.9" text-anchor="start">Malto-F</text>
</g>
<g font-family='"Liberation Serif", "Times New Roman", serif' font-size="84" fill="#000">
<text x="659.2" y="2390.8">(</text>
<text font-weight="bold" transform="translate(685.6 2391.8) scale(1.097 1.063)">b</text>
<text x="737.4" y="2390.8">)</text>
</g>
</svg>
</body>
</html>
